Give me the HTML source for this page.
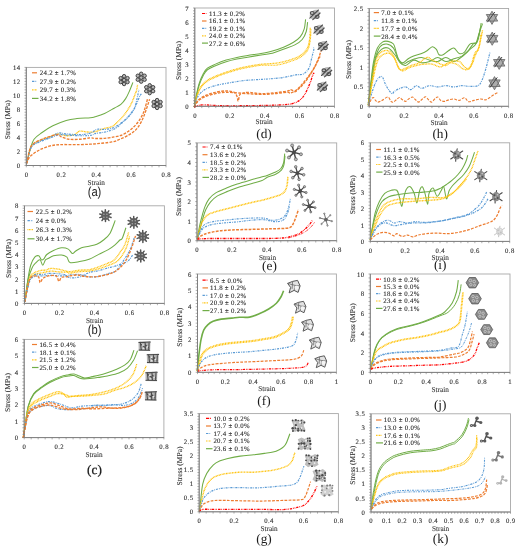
<!DOCTYPE html>
<html><head><meta charset="utf-8"><style>
html,body{margin:0;padding:0;background:#fff;width:522px;height:550px;overflow:hidden}
svg{display:block;text-rendering:geometricPrecision}
.t{font-family:'Liberation Serif','DejaVu Serif',serif;font-size:6.7px;fill:#333;letter-spacing:0.42px;stroke:#333;stroke-width:0.12px}
.lg{font-family:'Liberation Serif','DejaVu Serif',serif;font-size:6.8px;fill:#2a2a2a;letter-spacing:0.3px;stroke:#2a2a2a;stroke-width:0.12px}
.lab{font-family:'Liberation Serif','DejaVu Serif',serif;font-size:7.5px;fill:#383838;stroke:#383838;stroke-width:0.1px}
.capS{font-family:'Liberation Sans','DejaVu Sans',sans-serif;font-size:13px;fill:#1a1a1a}
.capT{font-family:'Liberation Serif','DejaVu Serif',serif;font-size:13.3px;fill:#1a1a1a}
.bold{stroke:#1a1a1a;stroke-width:0.25px}
</style></head><body>
<svg width="522" height="550" viewBox="0 0 522 550">
<rect width="522" height="550" fill="#fff"/>
<g id="pa">
<rect x="26.30" y="67.40" width="139.70" height="98.10" fill="none" stroke="#a8a8a8" stroke-width="0.9"/>
<path d="M26.54,163.39 C26.67,162.94 26.76,162.94 27.34,160.71 C27.92,158.47 28.91,153.56 30.02,149.98 C31.14,146.40 32.03,142.16 34.05,139.25 C36.06,136.35 38.96,134.78 42.09,132.55 C45.22,130.31 48.80,127.85 52.82,125.84 C56.84,123.83 62.21,121.69 66.23,120.48 C70.25,119.27 72.93,119.05 76.96,118.60 C80.98,118.15 87.36,118.09 90.37,117.80 C93.37,117.50 92.63,117.54 95.00,116.82 C97.37,116.10 101.39,114.90 104.58,113.47 C107.77,112.03 111.44,109.72 114.16,108.20 C116.87,106.68 118.95,105.96 120.86,104.37 C122.78,102.77 124.21,100.86 125.65,98.62 C127.09,96.39 128.28,93.66 129.48,90.96 C130.69,88.26 132.31,83.84 132.88,82.42" fill="none" stroke="#70ad47" stroke-width="1.05"/>
<path d="M26.54,163.39 C26.67,162.94 26.54,163.61 27.34,160.71 C28.15,157.80 29.35,149.31 31.36,145.96 C33.38,142.61 36.28,142.16 39.41,140.59 C42.54,139.03 47.01,137.69 50.14,136.57 C53.27,135.45 55.50,134.02 58.18,133.89 C60.87,133.75 63.55,135.63 66.23,135.77 C68.91,135.90 72.04,135.45 74.28,134.69 C76.51,133.93 77.40,131.65 79.64,131.21 C81.87,130.76 85.13,131.93 87.69,132.01 C90.25,132.09 92.18,132.28 95.00,131.67 C97.82,131.05 101.70,129.19 104.58,128.31 C107.45,127.44 109.85,127.68 112.24,126.40 C114.64,125.12 116.71,122.89 118.95,120.65 C121.18,118.42 123.58,115.86 125.65,112.99 C127.73,110.11 129.80,106.60 131.40,103.41 C132.99,100.22 134.35,96.07 135.23,93.83 C136.11,91.60 136.28,91.57 136.67,90.00 C137.06,88.43 137.42,85.36 137.57,84.43" fill="none" stroke="#ffc000" stroke-width="1.35" stroke-dasharray="0.9 0.6"/>
<path d="M26.54,163.39 C26.67,162.94 26.54,163.52 27.34,160.71 C28.15,157.89 29.35,149.76 31.36,146.49 C33.38,143.23 36.28,142.65 39.41,141.13 C42.54,139.61 47.01,138.72 50.14,137.38 C53.27,136.03 55.50,133.67 58.18,133.08 C60.87,132.50 62.65,133.62 66.23,133.89 C69.81,134.16 75.62,134.83 79.64,134.69 C83.66,134.56 87.49,133.99 90.37,133.08 C93.25,132.18 94.55,129.88 96.92,129.27 C99.28,128.67 102.02,129.66 104.58,129.46 C107.13,129.27 110.01,128.83 112.24,128.12 C114.48,127.42 116.23,126.33 117.99,125.25 C119.74,124.16 121.10,123.01 122.78,121.61 C124.45,120.20 126.53,118.42 128.05,116.82 C129.56,115.22 130.68,113.79 131.88,112.03 C133.07,110.27 134.06,109.99 135.23,106.28 C136.40,102.58 138.29,92.55 138.90,89.80" fill="none" stroke="#5b9bd5" stroke-width="1.2" stroke-dasharray="2.1 1.0 0.8 1.0"/>
<path d="M26.54,163.39 C26.67,162.94 26.54,163.39 27.34,160.71 C28.15,158.03 29.35,150.43 31.36,147.30 C33.38,144.17 36.28,143.50 39.41,141.93 C42.54,140.37 46.79,139.12 50.14,137.91 C53.49,136.70 56.40,135.14 59.52,134.69 C62.65,134.25 65.11,135.05 68.91,135.23 C72.71,135.41 78.52,135.77 82.32,135.77 C86.12,135.77 89.60,135.59 91.71,135.23 C93.82,134.87 92.86,134.10 95.00,133.58 C97.14,133.07 101.86,132.70 104.58,132.15 C107.29,131.59 109.21,131.03 111.28,130.23 C113.36,129.43 115.27,128.55 117.03,127.36 C118.79,126.16 120.22,124.48 121.82,123.05 C123.42,121.61 125.09,120.25 126.61,118.74 C128.13,117.22 129.64,115.62 130.92,113.95 C132.20,112.27 133.23,110.59 134.27,108.68 C135.31,106.76 136.19,104.61 137.15,102.45 C138.10,100.30 139.28,97.19 140.02,95.75 C140.76,94.31 141.34,94.12 141.60,93.80" fill="none" stroke="#5b9bd5" stroke-width="1.2" stroke-dasharray="2.1 1.0 0.8 1.0"/>
<path d="M26.54,163.39 C26.67,162.94 26.54,163.61 27.34,160.71 C28.15,157.80 28.91,149.53 31.36,145.96 C33.82,142.38 37.85,141.13 42.09,139.25 C46.34,137.38 53.71,135.14 56.84,134.69 C59.97,134.25 58.85,135.81 60.87,136.57 C62.88,137.33 65.78,138.81 68.91,139.25 C72.04,139.70 76.06,139.48 79.64,139.25 C83.22,139.03 87.82,138.05 90.37,137.91 C92.92,137.78 92.56,138.37 94.93,138.45 C97.30,138.52 101.37,138.62 104.58,138.37 C107.78,138.12 111.28,137.49 114.16,136.93 C117.03,136.38 119.43,135.98 121.82,135.02 C124.21,134.06 126.45,132.62 128.52,131.19 C130.60,129.75 132.52,128.15 134.27,126.40 C136.03,124.64 137.62,122.73 139.06,120.65 C140.50,118.58 141.90,116.02 142.89,113.95 C143.88,111.87 144.21,110.77 145.00,108.20 C145.79,105.63 147.19,100.13 147.63,98.51" fill="none" stroke="#ed7d31" stroke-width="1.35" stroke-dasharray="2.8 1.3"/>
<path d="M26.54,163.39 C26.67,162.94 26.54,162.05 27.34,160.71 C28.15,159.37 29.35,157.13 31.36,155.34 C33.38,153.56 36.28,151.55 39.41,149.98 C42.54,148.42 46.56,146.85 50.14,145.96 C53.71,145.06 55.95,144.84 60.87,144.62 C65.78,144.39 73.83,144.75 79.64,144.62 C85.45,144.48 90.37,144.26 95.73,143.81 C101.10,143.37 107.80,142.69 111.82,141.93 C115.85,141.17 116.96,140.46 119.87,139.25 C122.78,138.05 126.53,136.34 129.26,134.69 C131.98,133.04 134.17,131.59 136.23,129.36 C138.29,127.13 139.98,124.44 141.59,121.31 C143.20,118.18 144.54,114.27 145.89,110.58 C147.23,106.89 149.01,101.08 149.64,99.18" fill="none" stroke="#ed7d31" stroke-width="1.35" stroke-dasharray="2.8 1.3"/>
<path d="M26.30,67.40V165.50H166.00" fill="none" stroke="#7a7a7a" stroke-width="0.9"/>
<path d="M24.50,165.50H26.30M24.50,162.70H26.30M24.50,159.89H26.30M24.50,157.09H26.30M24.50,154.29H26.30M24.50,151.49H26.30M24.50,148.68H26.30M24.50,145.88H26.30M24.50,143.08H26.30M24.50,140.27H26.30M24.50,137.47H26.30M24.50,134.67H26.30M24.50,131.87H26.30M24.50,129.06H26.30M24.50,126.26H26.30M24.50,123.46H26.30M24.50,120.65H26.30M24.50,117.85H26.30M24.50,115.05H26.30M24.50,112.25H26.30M24.50,109.44H26.30M24.50,106.64H26.30M24.50,103.84H26.30M24.50,101.03H26.30M24.50,98.23H26.30M24.50,95.43H26.30M24.50,92.63H26.30M24.50,89.82H26.30M24.50,87.02H26.30M24.50,84.22H26.30M24.50,81.41H26.30M24.50,78.61H26.30M24.50,75.81H26.30M24.50,73.01H26.30M24.50,70.20H26.30M24.50,67.40H26.30M26.30,165.50V167.30M33.28,165.50V167.30M40.27,165.50V167.30M47.25,165.50V167.30M54.24,165.50V167.30M61.22,165.50V167.30M68.21,165.50V167.30M75.19,165.50V167.30M82.18,165.50V167.30M89.16,165.50V167.30M96.15,165.50V167.30M103.13,165.50V167.30M110.12,165.50V167.30M117.10,165.50V167.30M124.09,165.50V167.30M131.07,165.50V167.30M138.06,165.50V167.30M145.04,165.50V167.30M152.03,165.50V167.30M159.01,165.50V167.30M166.00,165.50V167.30" stroke="#7a7a7a" stroke-width="0.6"/>
<text x="20.52" y="168.05" text-anchor="end" class="t">0</text>
<text x="20.52" y="154.04" text-anchor="end" class="t">2</text>
<text x="20.52" y="140.02" text-anchor="end" class="t">4</text>
<text x="20.52" y="126.01" text-anchor="end" class="t">6</text>
<text x="20.52" y="111.99" text-anchor="end" class="t">8</text>
<text x="20.52" y="97.98" text-anchor="end" class="t">10</text>
<text x="20.52" y="83.96" text-anchor="end" class="t">12</text>
<text x="20.52" y="69.95" text-anchor="end" class="t">14</text>
<text x="26.51" y="176.70" text-anchor="middle" class="t">0</text>
<text x="61.43" y="176.70" text-anchor="middle" class="t">0.2</text>
<text x="96.36" y="176.70" text-anchor="middle" class="t">0.4</text>
<text x="131.28" y="176.70" text-anchor="middle" class="t">0.6</text>
<text x="166.21" y="176.70" text-anchor="middle" class="t">0.8</text>
<text transform="translate(10.35,119.65) rotate(-90)" text-anchor="middle" class="lab">Stress (MPa)</text>
<text transform="translate(96.20,184.50) scale(0.96,1)" text-anchor="middle" class="lab">Strain</text>
<text transform="translate(94.50,196.40) scale(0.86,1)" text-anchor="middle" class="capS">(a)</text>
<line x1="32.00" y1="72.80" x2="37.00" y2="72.80" stroke="#ed7d31" stroke-width="1.2"/>
<text x="39.75" y="75.20" class="lg">24.2 ± 1.7%</text>
<line x1="32.00" y1="81.40" x2="37.00" y2="81.40" stroke="#5b9bd5" stroke-width="1.2" stroke-dasharray="2.4 1.0 0.8 1.0"/>
<text x="39.75" y="83.80" class="lg">27.9 ± 0.2%</text>
<line x1="32.00" y1="89.90" x2="37.00" y2="89.90" stroke="#ffc000" stroke-width="1.2" stroke-dasharray="0.9 0.6"/>
<text x="39.75" y="92.30" class="lg">29.7 ± 0.3%</text>
<line x1="32.00" y1="98.40" x2="38.50" y2="98.40" stroke="#70ad47" stroke-width="1.2"/>
<text x="39.75" y="100.80" class="lg">34.2 ± 1.8%</text>
<g transform="translate(124.10,80.10) scale(1.0)"><g fill="#b5b5b5" stroke="#3c3c3c" stroke-width="0.95"><circle cx="0" cy="0" r="1.75"/><circle cx="0" cy="-3.9" r="1.75"/><circle cx="0" cy="3.9" r="1.75"/><circle cx="-3.4" cy="-1.95" r="1.75"/><circle cx="-3.4" cy="1.95" r="1.75"/><circle cx="3.4" cy="-1.95" r="1.75"/><circle cx="3.4" cy="1.95" r="1.75"/></g></g>
<g transform="translate(141.20,77.70) scale(1.0)"><g fill="#b5b5b5" stroke="#3c3c3c" stroke-width="0.95"><circle cx="0" cy="0" r="1.75"/><circle cx="0" cy="-3.9" r="1.75"/><circle cx="0" cy="3.9" r="1.75"/><circle cx="-3.4" cy="-1.95" r="1.75"/><circle cx="-3.4" cy="1.95" r="1.75"/><circle cx="3.4" cy="-1.95" r="1.75"/><circle cx="3.4" cy="1.95" r="1.75"/></g></g>
<g transform="translate(149.70,89.20) scale(1.0)"><g fill="#b5b5b5" stroke="#3c3c3c" stroke-width="0.95"><circle cx="0" cy="0" r="1.75"/><circle cx="0" cy="-3.9" r="1.75"/><circle cx="0" cy="3.9" r="1.75"/><circle cx="-3.4" cy="-1.95" r="1.75"/><circle cx="-3.4" cy="1.95" r="1.75"/><circle cx="3.4" cy="-1.95" r="1.75"/><circle cx="3.4" cy="1.95" r="1.75"/></g></g>
<g transform="translate(157.10,104.00) scale(1.0)"><g fill="#b5b5b5" stroke="#3c3c3c" stroke-width="0.95"><circle cx="0" cy="0" r="1.75"/><circle cx="0" cy="-3.9" r="1.75"/><circle cx="0" cy="3.9" r="1.75"/><circle cx="-3.4" cy="-1.95" r="1.75"/><circle cx="-3.4" cy="1.95" r="1.75"/><circle cx="3.4" cy="-1.95" r="1.75"/><circle cx="3.4" cy="1.95" r="1.75"/></g></g>
</g>
<g id="pb">
<rect x="24.50" y="205.80" width="139.90" height="97.60" fill="none" stroke="#a8a8a8" stroke-width="0.9"/>
<path d="M24.80,301.97 C25.34,298.08 27.04,284.76 28.02,278.64 C29.01,272.52 29.59,268.81 30.70,265.23 C31.82,261.65 33.39,258.75 34.73,257.18 C36.07,255.62 37.63,255.40 38.75,255.84 C39.87,256.29 40.54,259.42 41.43,259.87 C42.33,260.31 43.22,259.42 44.11,258.52 C45.01,257.63 45.23,255.84 46.80,254.50 C48.36,253.16 51.04,251.60 53.50,250.48 C55.96,249.36 59.09,248.02 61.55,247.80 C64.01,247.57 66.45,248.20 68.25,249.14 C70.06,250.07 71.15,253.10 72.39,253.41 C73.64,253.72 74.23,251.97 75.75,251.02 C77.26,250.06 79.26,248.46 81.49,247.66 C83.73,246.86 86.60,246.78 89.16,246.23 C91.71,245.67 94.43,245.35 96.82,244.31 C99.21,243.27 101.31,241.86 103.52,240.00 C105.74,238.14 108.15,236.42 110.09,233.16 C112.04,229.90 114.34,222.54 115.19,220.42" fill="none" stroke="#70ad47" stroke-width="1.05"/>
<path d="M24.80,301.97 C25.34,298.31 26.82,285.66 28.02,279.98 C29.23,274.30 30.70,270.82 32.05,267.91 C33.39,265.01 34.73,263.89 36.07,262.55 C37.41,261.21 38.97,259.42 40.09,259.87 C41.21,260.31 41.88,265.23 42.77,265.23 C43.67,265.23 44.56,260.98 45.46,259.87 C46.35,258.75 46.80,259.20 48.14,258.52 C49.48,257.85 51.27,256.42 53.50,255.84 C55.74,255.26 59.31,254.81 61.55,255.04 C63.78,255.26 65.50,255.94 66.91,257.18 C68.32,258.43 67.89,261.78 70.00,262.51 C72.11,263.24 76.39,262.11 79.58,261.55 C82.77,260.99 85.96,260.35 89.16,259.16 C92.35,257.96 95.54,255.96 98.74,254.37 C101.93,252.77 105.60,251.17 108.31,249.58 C111.03,247.98 113.10,246.39 115.02,244.79 C116.93,243.19 118.62,241.04 119.81,240.00 C121.00,238.96 121.14,240.56 122.16,238.52 C123.18,236.49 125.29,229.58 125.92,227.80" fill="none" stroke="#70ad47" stroke-width="1.05"/>
<path d="M24.80,301.97 C25.56,298.08 27.93,283.42 29.36,278.64 C30.79,273.86 31.60,274.62 33.39,273.28 C35.17,271.93 38.08,271.13 40.09,270.59 C42.10,270.06 43.67,270.42 45.46,270.06 C47.24,269.70 48.58,268.58 50.82,268.45 C53.05,268.31 56.63,268.90 58.87,269.25 C61.10,269.61 62.37,270.20 64.23,270.59 C66.09,270.99 67.44,271.68 70.00,271.61 C72.56,271.54 76.39,270.49 79.58,270.17 C82.77,269.85 85.96,270.25 89.16,269.69 C92.35,269.13 95.54,267.94 98.74,266.82 C101.93,265.70 105.76,264.11 108.31,262.99 C110.87,261.87 112.11,261.87 114.06,260.11 C116.01,258.36 118.20,255.04 120.00,252.45 C121.80,249.86 123.41,247.89 124.84,244.56 C126.28,241.23 127.97,234.50 128.60,232.49" fill="none" stroke="#ffc000" stroke-width="1.35" stroke-dasharray="0.9 0.6"/>
<path d="M24.80,301.97 C25.56,298.31 27.71,284.54 29.36,279.98 C31.02,275.42 32.49,275.82 34.73,274.62 C36.96,273.41 40.09,273.32 42.77,272.74 C45.46,272.16 48.14,271.26 50.82,271.13 C53.50,271.00 56.18,271.76 58.87,271.93 C61.55,272.11 65.06,272.02 66.91,272.20 C68.77,272.39 67.89,273.14 70.00,273.05 C72.11,272.95 76.39,271.93 79.58,271.61 C82.77,271.29 85.96,271.61 89.16,271.13 C92.35,270.65 95.54,269.69 98.74,268.74 C101.93,267.78 105.44,266.50 108.31,265.38 C111.19,264.27 113.89,263.38 115.98,262.03 C118.06,260.68 119.12,259.65 120.82,257.30 C122.52,254.95 124.73,251.38 126.18,247.91 C127.64,244.45 128.98,238.41 129.54,236.51" fill="none" stroke="#ffc000" stroke-width="1.35" stroke-dasharray="0.9 0.6"/>
<path d="M24.80,301.97 C25.56,298.53 27.71,285.88 29.36,281.32 C31.02,276.76 32.49,275.73 34.73,274.62 C36.96,273.50 40.09,274.84 42.77,274.62 C45.46,274.39 47.24,273.28 50.82,273.28 C54.40,273.28 61.03,273.86 64.23,274.62 C67.43,275.38 67.44,277.46 70.00,277.84 C72.56,278.21 76.39,277.76 79.58,276.88 C82.77,276.00 85.96,273.60 89.16,272.57 C92.35,271.53 95.54,271.45 98.74,270.65 C101.93,269.85 105.44,268.58 108.31,267.78 C111.19,266.98 112.78,266.94 115.98,265.86 C119.18,264.79 124.71,263.20 127.52,261.32 C130.34,259.45 131.99,255.73 132.89,254.62" fill="none" stroke="#5b9bd5" stroke-width="1.2" stroke-dasharray="2.1 1.0 0.8 1.0"/>
<path d="M24.80,301.97 C25.56,298.62 27.71,286.10 29.36,281.86 C31.02,277.61 32.49,277.48 34.73,276.49 C36.96,275.51 40.09,276.14 42.77,275.96 C45.46,275.78 47.24,275.42 50.82,275.42 C54.40,275.42 61.03,276.03 64.23,275.96 C67.43,275.88 67.44,275.21 70.00,274.96 C72.56,274.72 76.39,274.16 79.58,274.48 C82.77,274.80 85.96,276.56 89.16,276.88 C92.35,277.20 95.54,276.96 98.74,276.40 C101.93,275.84 105.44,274.48 108.31,273.52 C111.19,272.57 113.22,273.13 115.98,270.65 C118.73,268.17 122.47,262.21 124.84,258.64 C127.21,255.07 128.64,252.72 130.21,249.25 C131.77,245.79 133.56,239.75 134.23,237.85" fill="none" stroke="#5b9bd5" stroke-width="1.2" stroke-dasharray="2.1 1.0 0.8 1.0"/>
<path d="M24.80,301.97 C25.56,298.31 27.71,284.32 29.36,279.98 C31.02,275.64 33.16,276.40 34.73,275.96 C36.29,275.51 37.86,276.18 38.75,277.30 C39.64,278.42 39.42,282.44 40.09,282.66 C40.76,282.89 41.43,279.76 42.77,278.64 C44.11,277.52 45.90,276.40 48.14,275.96 C50.37,275.51 54.40,275.06 56.18,275.96 C57.97,276.85 57.97,281.10 58.87,281.32 C59.76,281.55 60.21,278.06 61.55,277.30 C62.89,276.54 65.50,276.99 66.91,276.76 C68.32,276.53 68.21,276.22 70.00,275.92 C71.79,275.62 75.27,274.88 77.66,274.96 C80.06,275.04 81.65,276.08 84.37,276.40 C87.08,276.72 90.75,277.04 93.95,276.88 C97.14,276.72 100.33,276.16 103.52,275.44 C106.72,274.72 110.36,273.84 113.10,272.57 C115.85,271.29 117.82,269.88 120.00,267.78 C122.18,265.68 124.26,263.29 126.18,259.98 C128.11,256.67 129.98,251.93 131.55,247.91 C133.11,243.89 134.90,237.85 135.57,235.84" fill="none" stroke="#ed7d31" stroke-width="1.35" stroke-dasharray="2.8 1.3"/>
<path d="M24.50,205.80V303.40H164.40" fill="none" stroke="#7a7a7a" stroke-width="0.9"/>
<path d="M22.70,303.40H24.50M22.70,300.96H24.50M22.70,298.52H24.50M22.70,296.08H24.50M22.70,293.64H24.50M22.70,291.20H24.50M22.70,288.76H24.50M22.70,286.32H24.50M22.70,283.88H24.50M22.70,281.44H24.50M22.70,279.00H24.50M22.70,276.56H24.50M22.70,274.12H24.50M22.70,271.68H24.50M22.70,269.24H24.50M22.70,266.80H24.50M22.70,264.36H24.50M22.70,261.92H24.50M22.70,259.48H24.50M22.70,257.04H24.50M22.70,254.60H24.50M22.70,252.16H24.50M22.70,249.72H24.50M22.70,247.28H24.50M22.70,244.84H24.50M22.70,242.40H24.50M22.70,239.96H24.50M22.70,237.52H24.50M22.70,235.08H24.50M22.70,232.64H24.50M22.70,230.20H24.50M22.70,227.76H24.50M22.70,225.32H24.50M22.70,222.88H24.50M22.70,220.44H24.50M22.70,218.00H24.50M22.70,215.56H24.50M22.70,213.12H24.50M22.70,210.68H24.50M22.70,208.24H24.50M22.70,205.80H24.50M24.50,303.40V305.20M31.50,303.40V305.20M38.49,303.40V305.20M45.48,303.40V305.20M52.48,303.40V305.20M59.48,303.40V305.20M66.47,303.40V305.20M73.47,303.40V305.20M80.46,303.40V305.20M87.45,303.40V305.20M94.45,303.40V305.20M101.45,303.40V305.20M108.44,303.40V305.20M115.44,303.40V305.20M122.43,303.40V305.20M129.43,303.40V305.20M136.42,303.40V305.20M143.42,303.40V305.20M150.41,303.40V305.20M157.41,303.40V305.20M164.40,303.40V305.20" stroke="#7a7a7a" stroke-width="0.6"/>
<text x="18.72" y="305.95" text-anchor="end" class="t">0</text>
<text x="18.72" y="293.75" text-anchor="end" class="t">1</text>
<text x="18.72" y="281.55" text-anchor="end" class="t">2</text>
<text x="18.72" y="269.35" text-anchor="end" class="t">3</text>
<text x="18.72" y="257.15" text-anchor="end" class="t">4</text>
<text x="18.72" y="244.95" text-anchor="end" class="t">5</text>
<text x="18.72" y="232.75" text-anchor="end" class="t">6</text>
<text x="18.72" y="220.55" text-anchor="end" class="t">7</text>
<text x="18.72" y="208.35" text-anchor="end" class="t">8</text>
<text x="24.71" y="314.60" text-anchor="middle" class="t">0</text>
<text x="59.69" y="314.60" text-anchor="middle" class="t">0.2</text>
<text x="94.66" y="314.60" text-anchor="middle" class="t">0.4</text>
<text x="129.64" y="314.60" text-anchor="middle" class="t">0.6</text>
<text x="164.61" y="314.60" text-anchor="middle" class="t">0.8</text>
<text transform="translate(10.80,258.50) rotate(-90)" text-anchor="middle" class="lab">Stress (MPa)</text>
<text transform="translate(94.60,322.50) scale(0.96,1)" text-anchor="middle" class="lab">Strain</text>
<text transform="translate(94.60,334.40) scale(0.86,1)" text-anchor="middle" class="capS">(b)</text>
<line x1="27.50" y1="211.50" x2="33.00" y2="211.50" stroke="#ed7d31" stroke-width="1.2"/>
<text x="35.75" y="213.90" class="lg">22.5 ± 0.2%</text>
<line x1="27.50" y1="220.70" x2="33.00" y2="220.70" stroke="#5b9bd5" stroke-width="1.2" stroke-dasharray="2.4 1.0 0.8 1.0"/>
<text x="35.75" y="223.10" class="lg">24 ± 0.0%</text>
<line x1="27.50" y1="229.60" x2="33.00" y2="229.60" stroke="#ffc000" stroke-width="1.2" stroke-dasharray="0.9 0.6"/>
<text x="35.75" y="232.00" class="lg">26.3 ± 0.3%</text>
<line x1="27.50" y1="238.80" x2="34.50" y2="238.80" stroke="#70ad47" stroke-width="1.2"/>
<text x="35.75" y="241.20" class="lg">30.4 ± 1.7%</text>
<g transform="translate(105.40,215.70) scale(1.0)"><g stroke="#555" stroke-width="1.5" stroke-linecap="round"><line x1="3.06" y1="0.95" x2="5.64" y2="1.74"/><line x1="1.92" y1="2.56" x2="3.54" y2="4.72"/><line x1="0.05" y1="3.20" x2="0.08" y2="5.90"/><line x1="-1.84" y1="2.62" x2="-3.40" y2="4.82"/><line x1="-3.03" y1="1.03" x2="-5.58" y2="1.90"/><line x1="-3.06" y1="-0.95" x2="-5.64" y2="-1.74"/><line x1="-1.92" y1="-2.56" x2="-3.54" y2="-4.72"/><line x1="-0.05" y1="-3.20" x2="-0.08" y2="-5.90"/><line x1="1.84" y1="-2.62" x2="3.40" y2="-4.82"/><line x1="3.03" y1="-1.03" x2="5.58" y2="-1.90"/></g><circle r="4.2" fill="#5e5e5e"/><g fill="#a8a8a8"><circle cx="-1.5" cy="-1.5" r="0.8"/><circle cx="1.5" cy="-1.5" r="0.8"/><circle cx="-1.5" cy="1.5" r="0.8"/><circle cx="1.5" cy="1.5" r="0.8"/></g></g>
<g transform="translate(133.80,222.30) scale(1.0)"><g stroke="#555" stroke-width="1.5" stroke-linecap="round"><line x1="3.06" y1="0.95" x2="5.64" y2="1.74"/><line x1="1.92" y1="2.56" x2="3.54" y2="4.72"/><line x1="0.05" y1="3.20" x2="0.08" y2="5.90"/><line x1="-1.84" y1="2.62" x2="-3.40" y2="4.82"/><line x1="-3.03" y1="1.03" x2="-5.58" y2="1.90"/><line x1="-3.06" y1="-0.95" x2="-5.64" y2="-1.74"/><line x1="-1.92" y1="-2.56" x2="-3.54" y2="-4.72"/><line x1="-0.05" y1="-3.20" x2="-0.08" y2="-5.90"/><line x1="1.84" y1="-2.62" x2="3.40" y2="-4.82"/><line x1="3.03" y1="-1.03" x2="5.58" y2="-1.90"/></g><circle r="4.2" fill="#5e5e5e"/><g fill="#a8a8a8"><circle cx="-1.5" cy="-1.5" r="0.8"/><circle cx="1.5" cy="-1.5" r="0.8"/><circle cx="-1.5" cy="1.5" r="0.8"/><circle cx="1.5" cy="1.5" r="0.8"/></g></g>
<g transform="translate(142.80,236.50) scale(1.0)"><g stroke="#555" stroke-width="1.5" stroke-linecap="round"><line x1="3.06" y1="0.95" x2="5.64" y2="1.74"/><line x1="1.92" y1="2.56" x2="3.54" y2="4.72"/><line x1="0.05" y1="3.20" x2="0.08" y2="5.90"/><line x1="-1.84" y1="2.62" x2="-3.40" y2="4.82"/><line x1="-3.03" y1="1.03" x2="-5.58" y2="1.90"/><line x1="-3.06" y1="-0.95" x2="-5.64" y2="-1.74"/><line x1="-1.92" y1="-2.56" x2="-3.54" y2="-4.72"/><line x1="-0.05" y1="-3.20" x2="-0.08" y2="-5.90"/><line x1="1.84" y1="-2.62" x2="3.40" y2="-4.82"/><line x1="3.03" y1="-1.03" x2="5.58" y2="-1.90"/></g><circle r="4.2" fill="#5e5e5e"/><g fill="#a8a8a8"><circle cx="-1.5" cy="-1.5" r="0.8"/><circle cx="1.5" cy="-1.5" r="0.8"/><circle cx="-1.5" cy="1.5" r="0.8"/><circle cx="1.5" cy="1.5" r="0.8"/></g></g>
<g transform="translate(140.70,256.00) scale(1.0)"><g stroke="#555" stroke-width="1.5" stroke-linecap="round"><line x1="3.06" y1="0.95" x2="5.64" y2="1.74"/><line x1="1.92" y1="2.56" x2="3.54" y2="4.72"/><line x1="0.05" y1="3.20" x2="0.08" y2="5.90"/><line x1="-1.84" y1="2.62" x2="-3.40" y2="4.82"/><line x1="-3.03" y1="1.03" x2="-5.58" y2="1.90"/><line x1="-3.06" y1="-0.95" x2="-5.64" y2="-1.74"/><line x1="-1.92" y1="-2.56" x2="-3.54" y2="-4.72"/><line x1="-0.05" y1="-3.20" x2="-0.08" y2="-5.90"/><line x1="1.84" y1="-2.62" x2="3.40" y2="-4.82"/><line x1="3.03" y1="-1.03" x2="5.58" y2="-1.90"/></g><circle r="4.2" fill="#5e5e5e"/><g fill="#a8a8a8"><circle cx="-1.5" cy="-1.5" r="0.8"/><circle cx="1.5" cy="-1.5" r="0.8"/><circle cx="-1.5" cy="1.5" r="0.8"/><circle cx="1.5" cy="1.5" r="0.8"/></g></g>
</g>
<g id="pc">
<rect x="24.20" y="339.40" width="139.70" height="98.20" fill="none" stroke="#a8a8a8" stroke-width="0.9"/>
<path d="M23.27,437.78 C23.67,435.10 24.83,427.05 25.68,421.69 C26.53,416.32 27.02,410.29 28.36,405.59 C29.70,400.90 31.49,396.65 33.73,393.52 C35.96,390.40 39.09,388.83 41.77,386.82 C44.46,384.81 46.69,383.15 49.82,381.46 C52.95,379.76 57.42,377.75 60.55,376.63 C63.68,375.51 66.36,375.20 68.59,374.75 C70.83,374.30 72.17,373.72 73.96,373.95 C75.75,374.17 77.53,375.42 79.32,376.09 C81.11,376.76 82.54,377.88 84.69,377.97 C86.83,378.06 89.85,377.08 92.20,376.63 C94.54,376.17 96.22,375.89 98.75,375.23 C101.28,374.57 104.49,373.60 107.37,372.64 C110.24,371.69 113.11,370.73 115.99,369.48 C118.86,368.24 122.21,366.85 124.61,365.17 C127.00,363.50 128.80,361.94 130.36,359.43 C131.91,356.91 133.35,351.64 133.95,350.09" fill="none" stroke="#70ad47" stroke-width="1.05"/>
<path d="M23.27,437.78 C23.67,435.19 24.83,427.50 25.68,422.22 C26.53,416.95 27.02,410.78 28.36,406.13 C29.70,401.48 31.49,397.41 33.73,394.33 C35.96,391.25 39.09,389.59 41.77,387.62 C44.46,385.66 46.69,384.18 49.82,382.53 C52.95,380.87 57.42,378.77 60.55,377.70 C63.68,376.63 66.36,376.45 68.59,376.09 C70.83,375.73 71.72,375.11 73.96,375.56 C76.19,376.00 78.96,378.33 82.00,378.77 C85.04,379.22 89.40,378.47 92.20,378.24 C94.99,378.01 96.22,377.77 98.75,377.39 C101.28,377.00 104.02,376.67 107.37,375.95 C110.72,375.23 115.51,374.39 118.86,373.07 C122.21,371.76 125.09,370.08 127.48,368.05 C129.88,366.01 131.55,363.74 133.23,360.86 C134.91,357.99 136.82,352.48 137.54,350.80" fill="none" stroke="#70ad47" stroke-width="1.05"/>
<path d="M23.27,437.78 C23.89,433.75 25.73,419.23 27.02,413.64 C28.32,408.05 29.03,406.71 31.05,404.25 C33.06,401.79 35.96,400.54 39.09,398.89 C42.22,397.23 46.69,395.54 49.82,394.33 C52.95,393.12 55.63,391.78 57.87,391.65 C60.10,391.51 61.67,392.63 63.23,393.52 C64.79,394.42 65.02,396.65 67.25,397.01 C69.49,397.37 72.48,396.12 76.64,395.67 C80.80,395.22 87.07,395.10 92.20,394.33 C97.32,393.56 102.92,392.30 107.37,391.03 C111.81,389.77 115.51,388.40 118.86,386.72 C122.21,385.05 125.09,383.13 127.48,380.98 C129.88,378.82 131.67,376.67 133.23,373.79 C134.79,370.92 136.22,365.41 136.82,363.74" fill="none" stroke="#ffc000" stroke-width="1.35" stroke-dasharray="0.9 0.6"/>
<path d="M23.27,437.78 C23.89,433.98 25.73,420.26 27.02,414.98 C28.32,409.71 29.03,408.50 31.05,406.13 C33.06,403.76 35.96,402.38 39.09,400.77 C42.22,399.16 46.69,397.68 49.82,396.48 C52.95,395.27 55.18,393.79 57.87,393.52 C60.55,393.26 63.90,394.42 65.91,394.87 C67.92,395.31 67.70,395.98 69.93,396.21 C72.17,396.43 75.61,396.34 79.32,396.21 C83.03,396.07 88.00,395.79 92.20,395.40 C96.39,395.02 100.77,394.76 104.49,393.91 C108.22,393.06 111.20,391.39 114.55,390.32 C117.90,389.24 121.26,388.76 124.61,387.44 C127.96,386.13 131.79,384.45 134.67,382.41 C137.54,380.38 139.93,377.98 141.85,375.23 C143.77,372.48 145.44,367.45 146.16,365.89" fill="none" stroke="#ffc000" stroke-width="1.35" stroke-dasharray="0.9 0.6"/>
<path d="M23.27,437.78 C23.89,434.20 25.73,421.24 27.02,416.32 C28.32,411.40 29.03,410.29 31.05,408.28 C33.06,406.26 35.96,405.37 39.09,404.25 C42.22,403.14 46.24,401.57 49.82,401.57 C53.40,401.57 56.97,403.22 60.55,404.25 C64.12,405.28 67.70,407.43 71.28,407.74 C74.85,408.05 78.52,406.49 82.00,406.13 C85.49,405.77 87.97,405.72 92.20,405.59 C96.42,405.47 102.44,405.67 107.37,405.40 C112.29,405.13 117.66,404.92 121.74,403.97 C125.81,403.01 129.04,401.57 131.79,399.66 C134.55,397.74 136.70,395.11 138.26,392.47 C139.82,389.84 140.65,385.29 141.13,383.85" fill="none" stroke="#5b9bd5" stroke-width="1.2" stroke-dasharray="2.1 1.0 0.8 1.0"/>
<path d="M23.27,437.78 C23.89,434.43 25.73,422.13 27.02,417.66 C28.32,413.19 29.03,412.75 31.05,410.96 C33.06,409.17 35.96,407.83 39.09,406.93 C42.22,406.04 46.69,405.28 49.82,405.59 C52.95,405.91 54.74,408.14 57.87,408.81 C60.99,409.48 64.57,409.62 68.59,409.62 C72.62,409.62 78.07,409.13 82.00,408.81 C85.94,408.50 90.36,408.31 92.20,407.74 C94.03,407.17 90.95,405.84 93.00,405.40 C95.05,404.96 100.90,405.23 104.49,405.11 C108.09,405.00 111.20,404.64 114.55,404.68 C117.90,404.73 121.50,405.76 124.61,405.40 C127.72,405.04 130.84,403.97 133.23,402.53 C135.62,401.09 137.42,399.18 138.98,396.78 C140.53,394.39 141.97,389.60 142.57,388.16" fill="none" stroke="#5b9bd5" stroke-width="1.2" stroke-dasharray="2.1 1.0 0.8 1.0"/>
<path d="M23.27,437.78 C23.89,434.43 25.73,422.36 27.02,417.66 C28.32,412.97 29.03,411.63 31.05,409.62 C33.06,407.61 35.96,406.71 39.09,405.59 C42.22,404.48 46.69,403.00 49.82,402.91 C52.95,402.82 54.74,404.07 57.87,405.06 C60.99,406.04 64.57,408.28 68.59,408.81 C72.62,409.35 78.07,408.28 82.00,408.28 C85.94,408.28 87.97,408.81 92.20,408.81 C96.42,408.81 102.44,408.48 107.37,408.28 C112.29,408.07 117.66,408.04 121.74,407.56 C125.81,407.08 128.92,406.72 131.79,405.40 C134.67,404.09 137.18,402.05 138.98,399.66 C140.77,397.26 141.97,392.47 142.57,391.03" fill="none" stroke="#ed7d31" stroke-width="1.35" stroke-dasharray="2.8 1.3"/>
<path d="M23.27,437.78 C23.89,434.65 25.73,423.47 27.02,419.00 C28.32,414.53 29.03,412.97 31.05,410.96 C33.06,408.95 35.96,407.92 39.09,406.93 C42.22,405.95 45.80,404.74 49.82,405.06 C53.84,405.37 58.76,408.05 63.23,408.81 C67.70,409.57 71.81,409.80 76.64,409.62 C81.47,409.44 88.03,408.20 92.20,407.74 C96.36,407.28 98.61,406.80 101.62,406.84 C104.63,406.88 107.37,407.75 110.24,407.99 C113.11,408.23 115.99,408.47 118.86,408.28 C121.74,408.08 124.61,407.80 127.48,406.84 C130.36,405.88 133.83,404.44 136.10,402.53 C138.38,400.61 140.29,396.54 141.13,395.34" fill="none" stroke="#ed7d31" stroke-width="1.35" stroke-dasharray="2.8 1.3"/>
<path d="M24.20,339.40V437.60H163.90" fill="none" stroke="#7a7a7a" stroke-width="0.9"/>
<path d="M22.40,437.60H24.20M22.40,434.33H24.20M22.40,431.05H24.20M22.40,427.78H24.20M22.40,424.51H24.20M22.40,421.23H24.20M22.40,417.96H24.20M22.40,414.69H24.20M22.40,411.41H24.20M22.40,408.14H24.20M22.40,404.87H24.20M22.40,401.59H24.20M22.40,398.32H24.20M22.40,395.05H24.20M22.40,391.77H24.20M22.40,388.50H24.20M22.40,385.23H24.20M22.40,381.95H24.20M22.40,378.68H24.20M22.40,375.41H24.20M22.40,372.13H24.20M22.40,368.86H24.20M22.40,365.59H24.20M22.40,362.31H24.20M22.40,359.04H24.20M22.40,355.77H24.20M22.40,352.49H24.20M22.40,349.22H24.20M22.40,345.95H24.20M22.40,342.67H24.20M22.40,339.40H24.20M24.20,437.60V439.40M31.18,437.60V439.40M38.17,437.60V439.40M45.16,437.60V439.40M52.14,437.60V439.40M59.12,437.60V439.40M66.11,437.60V439.40M73.09,437.60V439.40M80.08,437.60V439.40M87.06,437.60V439.40M94.05,437.60V439.40M101.03,437.60V439.40M108.02,437.60V439.40M115.01,437.60V439.40M121.99,437.60V439.40M128.97,437.60V439.40M135.96,437.60V439.40M142.94,437.60V439.40M149.93,437.60V439.40M156.91,437.60V439.40M163.90,437.60V439.40" stroke="#7a7a7a" stroke-width="0.6"/>
<text x="18.42" y="440.15" text-anchor="end" class="t">0</text>
<text x="18.42" y="423.78" text-anchor="end" class="t">1</text>
<text x="18.42" y="407.42" text-anchor="end" class="t">2</text>
<text x="18.42" y="391.05" text-anchor="end" class="t">3</text>
<text x="18.42" y="374.68" text-anchor="end" class="t">4</text>
<text x="18.42" y="358.32" text-anchor="end" class="t">5</text>
<text x="18.42" y="341.95" text-anchor="end" class="t">6</text>
<text x="24.41" y="448.80" text-anchor="middle" class="t">0</text>
<text x="59.34" y="448.80" text-anchor="middle" class="t">0.2</text>
<text x="94.26" y="448.80" text-anchor="middle" class="t">0.4</text>
<text x="129.19" y="448.80" text-anchor="middle" class="t">0.6</text>
<text x="164.11" y="448.80" text-anchor="middle" class="t">0.8</text>
<text transform="translate(10.35,392.50) rotate(-90)" text-anchor="middle" class="lab">Stress (MPa)</text>
<text transform="translate(94.00,456.70) scale(0.96,1)" text-anchor="middle" class="lab">Strain</text>
<text x="94.50" y="474.40" text-anchor="middle" class="capT bold">(c)</text>
<line x1="32.00" y1="344.50" x2="37.00" y2="344.50" stroke="#ed7d31" stroke-width="1.2"/>
<text x="39.40" y="346.90" class="lg">16.5 ± 0.4%</text>
<line x1="32.00" y1="352.20" x2="37.00" y2="352.20" stroke="#5b9bd5" stroke-width="1.2" stroke-dasharray="2.4 1.0 0.8 1.0"/>
<text x="39.40" y="354.60" class="lg">18.1 ± 0.1%</text>
<line x1="32.00" y1="359.90" x2="37.00" y2="359.90" stroke="#ffc000" stroke-width="1.2" stroke-dasharray="0.9 0.6"/>
<text x="39.40" y="362.30" class="lg">21.5 ± 1.2%</text>
<line x1="32.00" y1="367.50" x2="38.50" y2="367.50" stroke="#70ad47" stroke-width="1.2"/>
<text x="39.40" y="369.90" class="lg">25.0 ± 0.2%</text>
<g transform="translate(144.50,346.30) scale(1.0)"><path d="M-6,-4.6L6,-4.9L5.6,4.8L-5.8,4.6Z" fill="#b4b4b4"/><g stroke="#4a4a4a" stroke-width="1.05" fill="none" stroke-linecap="round"><path d="M-5.6,-3.8L5.8,-4.2M-5.4,3.8L5.2,4.0M-4.2,-4L-3.2,4M0.6,-4.1L1,4M4.6,-4.2L4.2,4M-4,-2.5L1,1.5M1,-1.5L4.5,2"/></g><g fill="#ececec"><circle cx="-1.6" cy="-1.2" r="0.9"/><circle cx="2.8" cy="0.6" r="0.9"/><circle cx="-1.2" cy="2.2" r="0.7"/></g></g>
<g transform="translate(152.80,358.60) scale(1.0)"><path d="M-6,-4.6L6,-4.9L5.6,4.8L-5.8,4.6Z" fill="#b4b4b4"/><g stroke="#4a4a4a" stroke-width="1.05" fill="none" stroke-linecap="round"><path d="M-5.6,-3.8L5.8,-4.2M-5.4,3.8L5.2,4.0M-4.2,-4L-3.2,4M0.6,-4.1L1,4M4.6,-4.2L4.2,4M-4,-2.5L1,1.5M1,-1.5L4.5,2"/></g><g fill="#ececec"><circle cx="-1.6" cy="-1.2" r="0.9"/><circle cx="2.8" cy="0.6" r="0.9"/><circle cx="-1.2" cy="2.2" r="0.7"/></g></g>
<g transform="translate(151.40,376.50) scale(1.0)"><path d="M-6,-4.6L6,-4.9L5.6,4.8L-5.8,4.6Z" fill="#b4b4b4"/><g stroke="#4a4a4a" stroke-width="1.05" fill="none" stroke-linecap="round"><path d="M-5.6,-3.8L5.8,-4.2M-5.4,3.8L5.2,4.0M-4.2,-4L-3.2,4M0.6,-4.1L1,4M4.6,-4.2L4.2,4M-4,-2.5L1,1.5M1,-1.5L4.5,2"/></g><g fill="#ececec"><circle cx="-1.6" cy="-1.2" r="0.9"/><circle cx="2.8" cy="0.6" r="0.9"/><circle cx="-1.2" cy="2.2" r="0.7"/></g></g>
<g transform="translate(150.80,396.00) scale(1.0)"><path d="M-6,-4.6L6,-4.9L5.6,4.8L-5.8,4.6Z" fill="#b4b4b4"/><g stroke="#4a4a4a" stroke-width="1.05" fill="none" stroke-linecap="round"><path d="M-5.6,-3.8L5.8,-4.2M-5.4,3.8L5.2,4.0M-4.2,-4L-3.2,4M0.6,-4.1L1,4M4.6,-4.2L4.2,4M-4,-2.5L1,1.5M1,-1.5L4.5,2"/></g><g fill="#ececec"><circle cx="-1.6" cy="-1.2" r="0.9"/><circle cx="2.8" cy="0.6" r="0.9"/><circle cx="-1.2" cy="2.2" r="0.7"/></g></g>
</g>
<g id="pd">
<rect x="194.80" y="8.00" width="139.70" height="98.30" fill="none" stroke="#a8a8a8" stroke-width="0.9"/>
<path d="M194.27,107.05 C194.67,104.81 195.83,97.66 196.68,93.64 C197.53,89.62 198.25,86.26 199.36,82.91 C200.48,79.56 202.05,75.98 203.39,73.52 C204.73,71.07 205.40,69.73 207.41,68.16 C209.42,66.60 212.33,65.48 215.46,64.14 C218.58,62.80 222.61,61.23 226.18,60.11 C229.76,59.00 233.34,58.19 236.91,57.43 C240.49,56.67 243.62,56.23 247.64,55.56 C251.66,54.89 257.21,54.07 261.05,53.41 C264.89,52.75 266.86,52.68 270.70,51.59 C274.55,50.51 280.32,48.46 284.11,46.90 C287.91,45.34 290.82,43.88 293.50,42.21 C296.18,40.53 298.42,39.08 300.21,36.84 C301.99,34.61 303.34,31.70 304.23,28.80 C305.12,25.89 305.35,20.97 305.57,19.41" fill="none" stroke="#70ad47" stroke-width="1.05"/>
<path d="M194.27,107.05 C194.67,105.04 195.83,98.74 196.68,94.98 C197.53,91.23 198.25,87.83 199.36,84.52 C200.48,81.21 202.05,77.59 203.39,75.13 C204.73,72.68 205.40,71.33 207.41,69.77 C209.42,68.21 212.33,67.09 215.46,65.75 C218.58,64.41 222.61,62.84 226.18,61.72 C229.76,60.61 233.34,59.80 236.91,59.04 C240.49,58.28 243.62,57.84 247.64,57.16 C251.66,56.49 257.21,55.61 261.05,55.02 C264.89,54.43 266.86,54.62 270.70,53.61 C274.55,52.59 280.09,50.36 284.11,48.91 C288.14,47.46 291.83,46.45 294.84,44.89 C297.86,43.32 300.32,41.76 302.22,39.52 C304.12,37.29 305.35,34.38 306.24,31.48 C307.14,28.57 307.36,23.66 307.58,22.09" fill="none" stroke="#70ad47" stroke-width="1.05"/>
<path d="M194.27,107.05 C194.67,105.26 195.61,99.67 196.68,96.32 C197.75,92.97 198.92,89.62 200.70,86.93 C202.49,84.25 204.95,82.02 207.41,80.23 C209.87,78.44 212.33,77.55 215.46,76.21 C218.58,74.87 222.16,73.52 226.18,72.18 C230.21,70.84 235.12,69.28 239.59,68.16 C244.06,67.04 249.20,66.15 253.00,65.48 C256.80,64.81 258.32,64.55 262.39,64.14 C266.46,63.72 272.67,63.74 277.41,62.99 C282.15,62.24 287.02,60.87 290.82,59.64 C294.62,58.41 297.52,57.40 300.21,55.62 C302.89,53.83 305.35,51.59 306.91,48.91 C308.48,46.23 309.04,43.10 309.59,39.52 C310.15,35.95 310.15,29.47 310.26,27.46" fill="none" stroke="#ffc000" stroke-width="1.3" stroke-dasharray="0.9 0.6"/>
<path d="M194.27,107.05 C194.67,105.40 195.61,100.30 196.68,97.13 C197.75,93.95 198.92,90.64 200.70,88.01 C202.49,85.37 204.95,83.09 207.41,81.30 C209.87,79.51 212.33,78.62 215.46,77.28 C218.58,75.94 222.16,74.60 226.18,73.26 C230.21,71.92 235.12,70.35 239.59,69.23 C244.06,68.12 249.20,67.22 253.00,66.55 C256.80,65.88 258.32,65.47 262.39,65.21 C266.46,64.95 272.67,65.66 277.41,65.00 C282.15,64.34 286.91,62.59 290.82,61.25 C294.73,59.91 298.08,58.79 300.88,56.96 C303.67,55.13 306.02,53.05 307.58,50.25 C309.15,47.46 309.71,43.77 310.26,40.20 C310.82,36.62 310.82,30.70 310.93,28.80" fill="none" stroke="#ffc000" stroke-width="1.1" stroke-dasharray="0.9 0.6"/>
<path d="M194.27,107.05 C194.89,105.26 196.28,99.23 198.02,96.32 C199.77,93.42 201.82,91.40 204.73,89.62 C207.63,87.83 211.43,86.71 215.46,85.59 C219.48,84.48 224.40,83.72 228.87,82.91 C233.34,82.11 237.81,81.30 242.28,80.77 C246.75,80.23 251.22,80.01 255.69,79.69 C260.16,79.38 264.63,79.25 269.10,78.89 C273.57,78.53 278.04,78.22 282.51,77.55 C286.98,76.88 292.56,75.41 295.92,74.87 C299.28,74.32 300.83,74.90 302.66,74.27 C304.49,73.64 305.74,72.33 306.88,71.10 C308.03,69.87 308.82,68.64 309.52,66.88 C310.22,65.12 310.58,62.66 311.10,60.55 C311.63,58.44 312.25,55.98 312.69,54.22 C313.13,52.46 313.59,51.11 313.74,50.00 C313.90,48.89 313.64,47.98 313.62,47.57" fill="none" stroke="#5b9bd5" stroke-width="1.2" stroke-dasharray="2.1 1.0 0.8 1.0"/>
<path d="M194.27,107.05 C194.89,105.93 196.28,102.22 198.02,100.34 C199.77,98.47 201.82,97.13 204.73,95.79 C207.63,94.44 211.88,93.10 215.46,92.30 C219.03,91.49 223.05,90.96 226.18,90.96 C229.31,90.96 232.44,91.40 234.23,92.30 C236.02,93.19 236.24,94.85 236.91,96.32 C237.58,97.80 237.81,101.37 238.25,101.15 C238.70,100.93 238.92,96.23 239.59,94.98 C240.26,93.73 240.93,94.09 242.28,93.64 C243.62,93.19 244.51,92.30 247.64,92.30 C250.77,92.30 256.58,93.55 261.05,93.64 C265.52,93.73 269.99,93.28 274.46,92.84 C278.93,92.39 285.28,91.50 287.87,90.96 C290.46,90.41 289.12,89.62 290.00,89.57 C290.88,89.51 292.29,90.27 293.17,90.62 C294.04,90.98 294.40,91.94 295.28,91.68 C296.16,91.41 297.21,90.18 298.44,89.04 C299.67,87.90 301.25,86.40 302.66,84.82 C304.07,83.24 305.48,81.48 306.88,79.54 C308.29,77.61 309.70,75.50 311.10,73.21 C312.51,70.93 314.09,68.29 315.32,65.83 C316.55,63.37 317.61,60.73 318.49,58.44 C319.37,56.16 320.07,53.52 320.60,52.11 C321.13,50.70 321.48,50.35 321.65,50.00" fill="none" stroke="#ed7d31" stroke-width="1.35" stroke-dasharray="2.8 1.3"/>
<path d="M194.27,107.05 C194.89,106.07 196.28,102.85 198.02,101.15 C199.77,99.45 201.82,98.11 204.73,96.86 C207.63,95.61 211.88,94.40 215.46,93.64 C219.03,92.88 220.82,92.30 226.18,92.30 C231.55,92.30 241.83,93.28 247.64,93.64 C253.45,94.00 256.58,94.44 261.05,94.44 C265.52,94.44 269.99,94.00 274.46,93.64 C278.93,93.28 285.28,92.36 287.87,92.30 C290.46,92.24 288.59,93.63 290.00,93.26 C291.41,92.89 294.40,91.50 296.33,90.10 C298.27,88.69 299.85,86.75 301.61,84.82 C303.37,82.89 305.12,80.78 306.88,78.49 C308.64,76.20 310.58,73.57 312.16,71.10 C313.74,68.64 315.06,66.18 316.38,63.72 C317.70,61.25 319.46,57.56 320.07,56.33" fill="none" stroke="#ed7d31" stroke-width="1.35" stroke-dasharray="2.8 1.3"/>
<path d="M194.27,107.05 C195.56,106.69 197.62,105.13 202.05,104.90 C206.47,104.68 213.22,105.57 220.82,105.71 C228.42,105.84 238.70,105.80 247.64,105.71 C256.58,105.62 267.75,105.40 274.46,105.17 C281.16,104.95 284.75,104.68 287.87,104.37 C290.99,104.05 291.58,103.73 293.17,103.29 C294.75,102.84 295.98,102.49 297.39,101.70 C298.79,100.91 300.38,99.77 301.61,98.54 C302.84,97.31 303.72,96.08 304.77,94.32 C305.83,92.56 306.97,90.10 307.94,87.99 C308.90,85.88 309.78,83.76 310.58,81.65 C311.37,79.54 312.11,76.82 312.69,75.32 C313.27,73.83 313.83,73.13 314.06,72.69" fill="none" stroke="#ff0000" stroke-width="1.3" stroke-dasharray="2.4 0.9 0.7 0.9 0.7 0.9"/>
<path d="M194.80,8.00V106.30H334.50" fill="none" stroke="#7a7a7a" stroke-width="0.9"/>
<path d="M193.00,106.30H194.80M193.00,103.49H194.80M193.00,100.68H194.80M193.00,97.87H194.80M193.00,95.07H194.80M193.00,92.26H194.80M193.00,89.45H194.80M193.00,86.64H194.80M193.00,83.83H194.80M193.00,81.02H194.80M193.00,78.21H194.80M193.00,75.41H194.80M193.00,72.60H194.80M193.00,69.79H194.80M193.00,66.98H194.80M193.00,64.17H194.80M193.00,61.36H194.80M193.00,58.55H194.80M193.00,55.75H194.80M193.00,52.94H194.80M193.00,50.13H194.80M193.00,47.32H194.80M193.00,44.51H194.80M193.00,41.70H194.80M193.00,38.89H194.80M193.00,36.09H194.80M193.00,33.28H194.80M193.00,30.47H194.80M193.00,27.66H194.80M193.00,24.85H194.80M193.00,22.04H194.80M193.00,19.23H194.80M193.00,16.43H194.80M193.00,13.62H194.80M193.00,10.81H194.80M193.00,8.00H194.80M194.80,106.30V108.10M201.79,106.30V108.10M208.77,106.30V108.10M215.75,106.30V108.10M222.74,106.30V108.10M229.73,106.30V108.10M236.71,106.30V108.10M243.69,106.30V108.10M250.68,106.30V108.10M257.67,106.30V108.10M264.65,106.30V108.10M271.63,106.30V108.10M278.62,106.30V108.10M285.61,106.30V108.10M292.59,106.30V108.10M299.57,106.30V108.10M306.56,106.30V108.10M313.55,106.30V108.10M320.53,106.30V108.10M327.51,106.30V108.10M334.50,106.30V108.10" stroke="#7a7a7a" stroke-width="0.6"/>
<text x="189.02" y="108.85" text-anchor="end" class="t">0</text>
<text x="189.02" y="94.81" text-anchor="end" class="t">1</text>
<text x="189.02" y="80.76" text-anchor="end" class="t">2</text>
<text x="189.02" y="66.72" text-anchor="end" class="t">3</text>
<text x="189.02" y="52.68" text-anchor="end" class="t">4</text>
<text x="189.02" y="38.64" text-anchor="end" class="t">5</text>
<text x="189.02" y="24.59" text-anchor="end" class="t">6</text>
<text x="189.02" y="10.55" text-anchor="end" class="t">7</text>
<text x="195.01" y="117.50" text-anchor="middle" class="t">0</text>
<text x="229.94" y="117.50" text-anchor="middle" class="t">0.2</text>
<text x="264.86" y="117.50" text-anchor="middle" class="t">0.4</text>
<text x="299.78" y="117.50" text-anchor="middle" class="t">0.6</text>
<text x="334.71" y="117.50" text-anchor="middle" class="t">0.8</text>
<text transform="translate(180.80,60.55) rotate(-90)" text-anchor="middle" class="lab">Stress (MPa)</text>
<text transform="translate(264.00,124.20) scale(0.96,1)" text-anchor="middle" class="lab">Strain</text>
<text x="264.00" y="137.90" text-anchor="middle" class="capT">(d)</text>
<line x1="202.00" y1="13.50" x2="206.50" y2="13.50" stroke="#ff0000" stroke-width="1.2" stroke-dasharray="3.2 0.9 0.8 0.9"/>
<text x="209.00" y="15.90" class="lg">11.3 ± 0.2%</text>
<line x1="202.00" y1="21.00" x2="206.50" y2="21.00" stroke="#ed7d31" stroke-width="1.2"/>
<text x="209.00" y="23.40" class="lg">16.1 ± 0.1%</text>
<line x1="202.00" y1="28.40" x2="206.50" y2="28.40" stroke="#5b9bd5" stroke-width="1.2" stroke-dasharray="2.4 1.0 0.8 1.0"/>
<text x="209.00" y="30.80" class="lg">19.2 ± 0.1%</text>
<line x1="202.00" y1="35.90" x2="206.50" y2="35.90" stroke="#ffc000" stroke-width="1.2" stroke-dasharray="0.9 0.6"/>
<text x="209.00" y="38.30" class="lg">24.0 ± 0.2%</text>
<line x1="202.00" y1="43.10" x2="208.00" y2="43.10" stroke="#70ad47" stroke-width="1.2"/>
<text x="209.00" y="45.50" class="lg">27.2 ± 0.6%</text>
<g transform="translate(314.80,14.60) scale(1.0)"><ellipse rx="5.6" ry="4.3" transform="rotate(-38)" fill="#bcbcbc"/><g stroke="#4e4e4e" stroke-width="1.15" fill="none" stroke-linecap="round"><path d="M-5,3.6L3.6,-4.6M-2,5L5.3,-1.6"/><ellipse cx="-2.6" cy="-1.6" rx="1.9" ry="1.5"/><ellipse cx="2.4" cy="2.2" rx="1.9" ry="1.5"/></g></g>
<g transform="translate(318.90,29.60) scale(1.0)"><ellipse rx="5.6" ry="4.3" transform="rotate(-38)" fill="#bcbcbc"/><g stroke="#4e4e4e" stroke-width="1.15" fill="none" stroke-linecap="round"><path d="M-5,3.6L3.6,-4.6M-2,5L5.3,-1.6"/><ellipse cx="-2.6" cy="-1.6" rx="1.9" ry="1.5"/><ellipse cx="2.4" cy="2.2" rx="1.9" ry="1.5"/></g></g>
<g transform="translate(323.00,45.90) scale(1.0)"><ellipse rx="5.6" ry="4.3" transform="rotate(-38)" fill="#bcbcbc"/><g stroke="#4e4e4e" stroke-width="1.15" fill="none" stroke-linecap="round"><path d="M-5,3.6L3.6,-4.6M-2,5L5.3,-1.6"/><ellipse cx="-2.6" cy="-1.6" rx="1.9" ry="1.5"/><ellipse cx="2.4" cy="2.2" rx="1.9" ry="1.5"/></g></g>
<g transform="translate(326.50,71.90) scale(1.0)"><ellipse rx="5.6" ry="4.3" transform="rotate(-38)" fill="#bcbcbc"/><g stroke="#4e4e4e" stroke-width="1.15" fill="none" stroke-linecap="round"><path d="M-5,3.6L3.6,-4.6M-2,5L5.3,-1.6"/><ellipse cx="-2.6" cy="-1.6" rx="1.9" ry="1.5"/><ellipse cx="2.4" cy="2.2" rx="1.9" ry="1.5"/></g></g>
<g transform="translate(322.30,86.60) scale(1.0)"><ellipse rx="5.6" ry="4.3" transform="rotate(-38)" fill="#bcbcbc"/><g stroke="#4e4e4e" stroke-width="1.15" fill="none" stroke-linecap="round"><path d="M-5,3.6L3.6,-4.6M-2,5L5.3,-1.6"/><ellipse cx="-2.6" cy="-1.6" rx="1.9" ry="1.5"/><ellipse cx="2.4" cy="2.2" rx="1.9" ry="1.5"/></g></g>
</g>
<g id="pe">
<rect x="197.00" y="142.90" width="139.70" height="97.80" fill="none" stroke="#a8a8a8" stroke-width="0.9"/>
<path d="M197.27,239.05 C197.67,236.81 198.83,229.66 199.68,225.64 C200.53,221.62 201.47,218.13 202.36,214.91 C203.26,211.69 203.93,209.01 205.05,206.33 C206.16,203.65 207.28,201.05 209.07,198.82 C210.86,196.58 212.87,194.71 215.77,192.92 C218.68,191.13 222.93,189.57 226.50,188.09 C230.08,186.62 233.21,185.41 237.23,184.07 C241.25,182.73 246.62,181.21 250.64,180.05 C254.66,178.88 258.52,177.90 261.37,177.10 C264.22,176.29 265.49,176.00 267.75,175.20 C270.01,174.41 272.78,173.41 274.93,172.33 C277.09,171.25 279.24,170.29 280.68,168.74 C282.11,167.18 282.88,165.50 283.55,162.99 C284.22,160.47 284.51,155.21 284.70,153.65" fill="none" stroke="#70ad47" stroke-width="1.05"/>
<path d="M197.27,239.05 C197.76,237.26 199.28,231.81 200.22,228.32 C201.16,224.84 201.96,221.26 202.90,218.13 C203.84,215.00 204.60,212.23 205.85,209.55 C207.10,206.87 208.53,204.27 210.41,202.04 C212.29,199.80 214.21,197.93 217.11,196.14 C220.02,194.35 224.27,192.79 227.84,191.31 C231.42,189.84 234.55,188.58 238.57,187.29 C242.59,185.99 248.18,184.61 251.98,183.53 C255.78,182.46 258.74,181.93 261.37,180.85 C264.00,179.77 265.37,178.18 267.75,177.07 C270.13,175.96 273.37,175.34 275.65,174.20 C277.92,173.05 280.03,171.68 281.40,170.17 C282.76,168.66 283.24,167.54 283.84,165.14 C284.44,162.75 284.80,157.36 284.99,155.80" fill="none" stroke="#70ad47" stroke-width="1.05"/>
<path d="M197.27,239.05 C197.67,237.49 198.83,232.57 199.68,229.66 C200.53,226.76 201.02,224.08 202.36,221.62 C203.70,219.16 205.49,216.57 207.73,214.91 C209.96,213.26 212.20,212.81 215.77,211.69 C219.35,210.58 224.71,209.37 229.18,208.21 C233.65,207.04 238.12,205.84 242.59,204.72 C247.06,203.60 252.87,202.22 256.00,201.50 C259.13,200.79 258.69,201.10 261.37,200.43 C264.04,199.76 268.84,198.44 272.06,197.47 C275.28,196.50 278.52,195.68 280.68,194.60 C282.83,193.52 283.91,192.68 284.99,191.01 C286.07,189.33 286.66,186.93 287.14,184.54 C287.62,182.15 287.74,177.95 287.86,176.64" fill="none" stroke="#ffc000" stroke-width="1.6" stroke-dasharray="0.9 0.6"/>
<path d="M197.27,239.05 C197.89,237.49 199.73,232.12 201.02,229.66 C202.32,227.20 203.03,225.64 205.05,224.30 C207.06,222.96 209.96,222.29 213.09,221.62 C216.22,220.95 219.80,220.72 223.82,220.28 C227.84,219.83 232.76,219.29 237.23,218.93 C241.70,218.58 246.17,218.26 250.64,218.13 C255.11,218.00 260.47,217.77 264.05,218.13 C267.63,218.49 269.41,220.14 272.10,220.28 C274.78,220.41 277.91,219.83 280.14,218.93 C282.38,218.04 284.08,216.92 285.51,214.91 C286.94,212.90 287.92,209.55 288.72,206.87 C289.53,204.18 290.07,200.16 290.33,198.82" fill="none" stroke="#5b9bd5" stroke-width="1.15" stroke-dasharray="2.1 1.0 0.8 1.0"/>
<path d="M197.27,239.05 C197.89,237.71 199.73,233.02 201.02,231.00 C202.32,228.99 203.03,228.10 205.05,226.98 C207.06,225.86 209.96,224.97 213.09,224.30 C216.22,223.63 219.80,223.36 223.82,222.96 C227.84,222.56 232.76,222.33 237.23,221.89 C241.70,221.44 246.17,220.63 250.64,220.28 C255.11,219.92 260.03,219.52 264.05,219.74 C268.07,219.96 271.65,221.53 274.78,221.62 C277.91,221.71 280.81,221.39 282.82,220.28 C284.84,219.16 285.73,217.15 286.85,214.91 C287.96,212.68 289.08,208.21 289.53,206.87" fill="none" stroke="#5b9bd5" stroke-width="1.15" stroke-dasharray="2.1 1.0 0.8 1.0"/>
<path d="M197.27,239.05 C197.89,238.51 199.28,236.81 201.02,235.83 C202.77,234.85 204.82,233.95 207.73,233.15 C210.63,232.34 214.43,231.54 218.46,231.00 C222.48,230.47 226.50,230.20 231.87,229.93 C237.23,229.66 244.38,229.57 250.64,229.39 C256.90,229.22 263.60,229.04 269.41,228.86 C275.22,228.68 281.93,228.63 285.51,228.32 C289.08,228.01 289.53,227.87 290.87,226.98 C292.21,226.09 292.66,224.75 293.55,222.96 C294.45,221.17 295.43,218.49 296.23,216.25 C297.04,214.02 298.02,210.67 298.38,209.55" fill="none" stroke="#ed7d31" stroke-width="1.5" stroke-dasharray="2.8 1.3"/>
<path d="M197.27,239.05 C199.46,238.96 203.75,238.60 210.41,238.51 C217.07,238.42 228.29,238.51 237.23,238.51 C246.17,238.51 256.45,238.60 264.05,238.51 C271.65,238.42 278.35,238.33 282.82,237.98 C287.29,237.62 288.19,237.08 290.87,236.37 C293.55,235.65 296.68,234.80 298.92,233.69 C301.15,232.57 302.49,231.23 304.28,229.66 C306.07,228.10 308.30,225.86 309.64,224.30 C310.98,222.73 311.88,220.95 312.33,220.28" fill="none" stroke="#ff0000" stroke-width="1.4" stroke-dasharray="2.4 0.9 0.7 0.9 0.7 0.9"/>
<path d="M288.19,237.98 C289.53,237.62 293.55,236.77 296.23,235.83 C298.92,234.89 301.82,233.82 304.28,232.34 C306.74,230.87 309.20,228.77 310.98,226.98 C312.77,225.19 314.34,222.51 315.01,221.62" fill="none" stroke="#ff0000" stroke-width="0.8" stroke-dasharray="2.4 0.9 0.7 0.9 0.7 0.9"/>
<path d="M197.00,142.90V240.70H336.70" fill="none" stroke="#7a7a7a" stroke-width="0.9"/>
<path d="M195.20,240.70H197.00M195.20,236.79H197.00M195.20,232.88H197.00M195.20,228.96H197.00M195.20,225.05H197.00M195.20,221.14H197.00M195.20,217.23H197.00M195.20,213.32H197.00M195.20,209.40H197.00M195.20,205.49H197.00M195.20,201.58H197.00M195.20,197.67H197.00M195.20,193.76H197.00M195.20,189.84H197.00M195.20,185.93H197.00M195.20,182.02H197.00M195.20,178.11H197.00M195.20,174.20H197.00M195.20,170.28H197.00M195.20,166.37H197.00M195.20,162.46H197.00M195.20,158.55H197.00M195.20,154.64H197.00M195.20,150.72H197.00M195.20,146.81H197.00M195.20,142.90H197.00M197.00,240.70V242.50M203.99,240.70V242.50M210.97,240.70V242.50M217.95,240.70V242.50M224.94,240.70V242.50M231.93,240.70V242.50M238.91,240.70V242.50M245.89,240.70V242.50M252.88,240.70V242.50M259.87,240.70V242.50M266.85,240.70V242.50M273.83,240.70V242.50M280.82,240.70V242.50M287.81,240.70V242.50M294.79,240.70V242.50M301.77,240.70V242.50M308.76,240.70V242.50M315.75,240.70V242.50M322.73,240.70V242.50M329.71,240.70V242.50M336.70,240.70V242.50" stroke="#7a7a7a" stroke-width="0.6"/>
<text x="191.22" y="243.25" text-anchor="end" class="t">0</text>
<text x="191.22" y="223.69" text-anchor="end" class="t">1</text>
<text x="191.22" y="204.13" text-anchor="end" class="t">2</text>
<text x="191.22" y="184.57" text-anchor="end" class="t">3</text>
<text x="191.22" y="165.01" text-anchor="end" class="t">4</text>
<text x="191.22" y="145.45" text-anchor="end" class="t">5</text>
<text x="197.21" y="251.90" text-anchor="middle" class="t">0</text>
<text x="232.14" y="251.90" text-anchor="middle" class="t">0.2</text>
<text x="267.06" y="251.90" text-anchor="middle" class="t">0.4</text>
<text x="301.98" y="251.90" text-anchor="middle" class="t">0.6</text>
<text x="336.91" y="251.90" text-anchor="middle" class="t">0.8</text>
<text transform="translate(181.40,196.40) rotate(-90)" text-anchor="middle" class="lab">Stress (MPa)</text>
<text transform="translate(267.50,259.60) scale(0.96,1)" text-anchor="middle" class="lab">Strain</text>
<text x="269.50" y="270.10" text-anchor="middle" class="capT">(e)</text>
<line x1="202.50" y1="147.00" x2="207.50" y2="147.00" stroke="#ff0000" stroke-width="1.2" stroke-dasharray="3.2 0.9 0.8 0.9"/>
<text x="210.00" y="149.40" class="lg">7.4 ± 0.1%</text>
<line x1="202.50" y1="154.70" x2="207.50" y2="154.70" stroke="#ed7d31" stroke-width="1.2"/>
<text x="210.00" y="157.10" class="lg">13.6 ± 0.2%</text>
<line x1="202.50" y1="162.40" x2="207.50" y2="162.40" stroke="#5b9bd5" stroke-width="1.2" stroke-dasharray="2.4 1.0 0.8 1.0"/>
<text x="210.00" y="164.80" class="lg">18.5 ± 0.2%</text>
<line x1="202.50" y1="169.90" x2="207.50" y2="169.90" stroke="#ffc000" stroke-width="1.2" stroke-dasharray="0.9 0.6"/>
<text x="210.00" y="172.30" class="lg">23.3 ± 0.2%</text>
<line x1="202.50" y1="177.40" x2="209.00" y2="177.40" stroke="#70ad47" stroke-width="1.2"/>
<text x="210.00" y="179.80" class="lg">28.2 ± 0.0%</text>
<g transform="translate(294.00,152.40) scale(1.0)"><path d="M0,0L6.95,1.86M0,0L1.86,6.95M0,0L-5.09,5.09M0,0L-6.95,-1.86M0,0L-1.86,-6.95M0,0L5.09,-5.09" stroke="#4a4a4a" stroke-width="1.5" fill="none"/><g fill="#bbb" stroke="#4a4a4a" stroke-width="0.6"><circle cx="6.95" cy="1.86" r="1.5"/><circle cx="1.86" cy="6.95" r="1.5"/><circle cx="-5.09" cy="5.09" r="1.5"/><circle cx="-6.95" cy="-1.86" r="1.5"/><circle cx="-1.86" cy="-6.95" r="1.5"/><circle cx="5.09" cy="-5.09" r="1.5"/></g><circle r="1.9" fill="#4a4a4a"/></g>
<g transform="translate(297.40,173.10) scale(1.0)"><path d="M0,0L6.28,1.68M0,0L1.68,6.28M0,0L-4.60,4.60M0,0L-6.28,-1.68M0,0L-1.68,-6.28M0,0L4.60,-4.60" stroke="#4a4a4a" stroke-width="1.3" fill="none"/><g fill="#bbb" stroke="#4a4a4a" stroke-width="0.6"><circle cx="6.28" cy="1.68" r="1.3"/><circle cx="1.68" cy="6.28" r="1.3"/><circle cx="-4.60" cy="4.60" r="1.3"/><circle cx="-6.28" cy="-1.68" r="1.3"/><circle cx="-1.68" cy="-6.28" r="1.3"/><circle cx="4.60" cy="-4.60" r="1.3"/></g><circle r="1.9" fill="#4a4a4a"/></g>
<g transform="translate(300.20,191.00) scale(1.0)"><path d="M0,0L5.89,1.58M0,0L1.58,5.89M0,0L-4.31,4.31M0,0L-5.89,-1.58M0,0L-1.58,-5.89M0,0L4.31,-4.31" stroke="#4a4a4a" stroke-width="1.2" fill="none"/><g fill="#bbb" stroke="#4a4a4a" stroke-width="0.6"><circle cx="5.89" cy="1.58" r="1.1"/><circle cx="1.58" cy="5.89" r="1.1"/><circle cx="-4.31" cy="4.31" r="1.1"/><circle cx="-5.89" cy="-1.58" r="1.1"/><circle cx="-1.58" cy="-5.89" r="1.1"/><circle cx="4.31" cy="-4.31" r="1.1"/></g><circle r="1.9" fill="#4a4a4a"/></g>
<g transform="translate(309.20,206.10) scale(1.0)"><path d="M0,0L5.89,1.58M0,0L1.58,5.89M0,0L-4.31,4.31M0,0L-5.89,-1.58M0,0L-1.58,-5.89M0,0L4.31,-4.31" stroke="#4a4a4a" stroke-width="1.2" fill="none"/><g fill="#bbb" stroke="#4a4a4a" stroke-width="0.6"><circle cx="5.89" cy="1.58" r="1.0"/><circle cx="1.58" cy="5.89" r="1.0"/><circle cx="-4.31" cy="4.31" r="1.0"/><circle cx="-5.89" cy="-1.58" r="1.0"/><circle cx="-1.58" cy="-5.89" r="1.0"/><circle cx="4.31" cy="-4.31" r="1.0"/></g><circle r="1.9" fill="#4a4a4a"/></g>
<g transform="translate(325.90,219.60) scale(1.0)" opacity="0.85"><path d="M0,0L5.99,1.60M0,0L1.60,5.99M0,0L-4.38,4.38M0,0L-5.99,-1.60M0,0L-1.60,-5.99M0,0L4.38,-4.38" stroke="#4a4a4a" stroke-width="0.9" fill="none"/><g fill="#bbb" stroke="#4a4a4a" stroke-width="0.6"><circle cx="5.99" cy="1.60" r="0.7"/><circle cx="1.60" cy="5.99" r="0.7"/><circle cx="-4.38" cy="4.38" r="0.7"/><circle cx="-5.99" cy="-1.60" r="0.7"/><circle cx="-1.60" cy="-5.99" r="0.7"/><circle cx="4.38" cy="-4.38" r="0.7"/></g><circle r="1.9" fill="#4a4a4a"/></g>
</g>
<g id="pf">
<rect x="197.50" y="274.00" width="138.90" height="98.30" fill="none" stroke="#a8a8a8" stroke-width="0.9"/>
<path d="M197.27,371.20 C197.58,368.16 198.52,358.23 199.15,352.96 C199.77,347.68 200.26,343.35 201.02,339.55 C201.78,335.75 202.59,332.62 203.70,330.16 C204.82,327.70 206.16,326.27 207.73,324.80 C209.29,323.32 210.86,322.25 213.09,321.31 C215.33,320.37 218.01,319.70 221.14,319.16 C224.27,318.63 228.83,318.40 231.87,318.09 C234.91,317.78 236.42,317.45 239.38,317.29 C242.33,317.12 246.28,317.68 249.58,317.09 C252.88,316.50 255.96,315.09 259.16,313.74 C262.35,312.38 265.86,310.70 268.74,308.95 C271.61,307.19 274.32,305.27 276.40,303.20 C278.47,301.12 279.99,298.57 281.19,296.49 C282.39,294.42 283.18,291.70 283.58,290.75" fill="none" stroke="#70ad47" stroke-width="1.6"/>
<path d="M197.27,371.20 C197.67,369.72 198.83,365.16 199.68,362.34 C200.53,359.53 201.02,356.53 202.36,354.30 C203.70,352.06 205.49,350.37 207.73,348.93 C209.96,347.50 212.64,346.61 215.77,345.72 C218.90,344.82 222.48,344.15 226.50,343.57 C230.52,342.99 235.44,342.68 239.91,342.23 C244.38,341.78 249.75,341.34 253.32,340.89 C256.90,340.44 258.01,340.13 261.37,339.55 C264.73,338.96 270.04,338.33 273.49,337.37 C276.95,336.41 279.60,335.10 282.11,333.78 C284.63,332.46 287.02,331.15 288.58,329.47 C290.14,327.80 290.74,325.88 291.45,323.72 C292.17,321.57 292.65,317.74 292.89,316.54" fill="none" stroke="#ffc000" stroke-width="2.2" stroke-dasharray="0.9 0.6"/>
<path d="M197.27,371.20 C197.76,369.94 198.92,365.83 200.22,363.69 C201.51,361.54 202.90,359.75 205.05,358.32 C207.19,356.89 209.96,355.91 213.09,355.10 C216.22,354.30 219.80,353.94 223.82,353.49 C227.84,353.05 232.76,352.73 237.23,352.42 C241.70,352.11 246.17,351.97 250.64,351.62 C255.11,351.26 259.58,350.72 264.05,350.28 C268.52,349.83 273.44,349.47 277.46,348.93 C281.48,348.40 285.51,347.73 288.19,347.06 C290.87,346.39 292.21,346.16 293.55,344.91 C294.89,343.66 295.56,341.56 296.23,339.55 C296.90,337.54 297.35,333.96 297.57,332.84" fill="none" stroke="#5b9bd5" stroke-width="1.2" stroke-dasharray="2.1 1.0 0.8 1.0"/>
<path d="M197.27,371.20 C197.89,370.61 199.28,368.74 201.02,367.71 C202.77,366.68 204.82,365.70 207.73,365.03 C210.63,364.36 213.54,364.13 218.46,363.69 C223.37,363.24 230.97,362.70 237.23,362.34 C243.49,361.99 249.30,361.85 256.00,361.54 C262.71,361.23 271.65,360.78 277.46,360.47 C283.27,360.15 287.52,360.02 290.87,359.66 C294.22,359.31 295.79,358.99 297.57,358.32 C299.36,357.65 300.57,356.98 301.60,355.64 C302.63,354.30 303.39,351.17 303.74,350.28" fill="none" stroke="#ed7d31" stroke-width="1.2" stroke-dasharray="2.8 1.3"/>
<path d="M197.27,371.20 C199.46,370.97 203.75,370.12 210.41,369.85 C217.07,369.59 228.29,369.72 237.23,369.59 C246.17,369.45 256.00,369.23 264.05,369.05 C272.10,368.87 279.69,368.74 285.51,368.51 C291.32,368.29 295.79,367.98 298.92,367.71 C302.04,367.44 302.94,367.35 304.28,366.90 C305.62,366.46 306.29,365.79 306.96,365.03 C307.63,364.27 308.08,362.79 308.30,362.34" fill="none" stroke="#ff0000" stroke-width="1.2" stroke-dasharray="2.4 0.9 0.7 0.9 0.7 0.9"/>
<path d="M197.50,274.00V372.30H336.40" fill="none" stroke="#7a7a7a" stroke-width="0.9"/>
<path d="M195.70,372.30H197.50M195.70,369.02H197.50M195.70,365.75H197.50M195.70,362.47H197.50M195.70,359.19H197.50M195.70,355.92H197.50M195.70,352.64H197.50M195.70,349.36H197.50M195.70,346.09H197.50M195.70,342.81H197.50M195.70,339.53H197.50M195.70,336.26H197.50M195.70,332.98H197.50M195.70,329.70H197.50M195.70,326.43H197.50M195.70,323.15H197.50M195.70,319.87H197.50M195.70,316.60H197.50M195.70,313.32H197.50M195.70,310.04H197.50M195.70,306.77H197.50M195.70,303.49H197.50M195.70,300.21H197.50M195.70,296.94H197.50M195.70,293.66H197.50M195.70,290.38H197.50M195.70,287.11H197.50M195.70,283.83H197.50M195.70,280.55H197.50M195.70,277.28H197.50M195.70,274.00H197.50M197.50,372.30V374.10M203.06,372.30V374.10M208.61,372.30V374.10M214.17,372.30V374.10M219.72,372.30V374.10M225.28,372.30V374.10M230.84,372.30V374.10M236.39,372.30V374.10M241.95,372.30V374.10M247.50,372.30V374.10M253.06,372.30V374.10M258.62,372.30V374.10M264.17,372.30V374.10M269.73,372.30V374.10M275.28,372.30V374.10M280.84,372.30V374.10M286.40,372.30V374.10M291.95,372.30V374.10M297.51,372.30V374.10M303.06,372.30V374.10M308.62,372.30V374.10M314.18,372.30V374.10M319.73,372.30V374.10M325.29,372.30V374.10M330.84,372.30V374.10M336.40,372.30V374.10" stroke="#7a7a7a" stroke-width="0.6"/>
<text x="191.72" y="374.85" text-anchor="end" class="t">0</text>
<text x="191.72" y="358.47" text-anchor="end" class="t">1</text>
<text x="191.72" y="342.08" text-anchor="end" class="t">2</text>
<text x="191.72" y="325.70" text-anchor="end" class="t">3</text>
<text x="191.72" y="309.32" text-anchor="end" class="t">4</text>
<text x="191.72" y="292.93" text-anchor="end" class="t">5</text>
<text x="191.72" y="276.55" text-anchor="end" class="t">6</text>
<text x="197.71" y="383.50" text-anchor="middle" class="t">0</text>
<text x="225.49" y="383.50" text-anchor="middle" class="t">0.2</text>
<text x="253.27" y="383.50" text-anchor="middle" class="t">0.4</text>
<text x="281.05" y="383.50" text-anchor="middle" class="t">0.6</text>
<text x="308.83" y="383.50" text-anchor="middle" class="t">0.8</text>
<text x="336.61" y="383.50" text-anchor="middle" class="t">1</text>
<text transform="translate(181.90,327.20) rotate(-90)" text-anchor="middle" class="lab">Stress (MPa)</text>
<text transform="translate(266.80,391.20) scale(0.96,1)" text-anchor="middle" class="lab">Strain</text>
<text x="264.00" y="405.40" text-anchor="middle" class="capT">(f)</text>
<line x1="202.50" y1="280.20" x2="208.00" y2="280.20" stroke="#ff0000" stroke-width="1.2" stroke-dasharray="3.2 0.9 0.8 0.9"/>
<text x="210.00" y="282.60" class="lg">6.5 ± 0.0%</text>
<line x1="202.50" y1="287.90" x2="208.00" y2="287.90" stroke="#ed7d31" stroke-width="1.2"/>
<text x="210.00" y="290.30" class="lg">11.8 ± 0.2%</text>
<line x1="202.50" y1="295.40" x2="208.00" y2="295.40" stroke="#5b9bd5" stroke-width="1.2" stroke-dasharray="2.4 1.0 0.8 1.0"/>
<text x="210.00" y="297.80" class="lg">17.0 ± 0.2%</text>
<line x1="202.50" y1="302.90" x2="208.00" y2="302.90" stroke="#ffc000" stroke-width="1.2" stroke-dasharray="0.9 0.6"/>
<text x="210.00" y="305.30" class="lg">20.9 ± 0.2%</text>
<line x1="202.50" y1="310.60" x2="209.50" y2="310.60" stroke="#70ad47" stroke-width="1.2"/>
<text x="210.00" y="313.00" class="lg">27.1 ± 0.2%</text>
<g transform="translate(294.10,286.90) scale(1.0)"><path d="M-6.5,-3.5L-1.5,-5.5L3.5,-6.5L6,-1L4,5.5L0,3.5L-5,6L-3.5,0.5Z" fill="#e2e2e2" stroke="#555" stroke-width="1.0" stroke-linejoin="round"/><path d="M-1.5,-5.5L-2,2M-6.5,-3.5L1,-1.5L6,-1M1,-1.5L0,3.5" stroke="#666" stroke-width="0.8" fill="none"/><circle cx="2.5" cy="0.8" r="2.1" fill="#f4f4f4"/></g>
<g transform="translate(300.20,307.50) scale(0.95)"><path d="M-6.5,-3.5L-1.5,-5.5L3.5,-6.5L6,-1L4,5.5L0,3.5L-5,6L-3.5,0.5Z" fill="#e2e2e2" stroke="#555" stroke-width="1.0" stroke-linejoin="round"/><path d="M-1.5,-5.5L-2,2M-6.5,-3.5L1,-1.5L6,-1M1,-1.5L0,3.5" stroke="#666" stroke-width="0.8" fill="none"/><circle cx="2.5" cy="0.8" r="2.1" fill="#f4f4f4"/></g>
<g transform="translate(307.80,325.50) scale(0.95)"><path d="M-6.5,-3.5L-1.5,-5.5L3.5,-6.5L6,-1L4,5.5L0,3.5L-5,6L-3.5,0.5Z" fill="#e2e2e2" stroke="#555" stroke-width="1.0" stroke-linejoin="round"/><path d="M-1.5,-5.5L-2,2M-6.5,-3.5L1,-1.5L6,-1M1,-1.5L0,3.5" stroke="#666" stroke-width="0.8" fill="none"/><circle cx="2.5" cy="0.8" r="2.1" fill="#f4f4f4"/></g>
<g transform="translate(315.50,343.40) scale(0.95)"><path d="M-6.5,-3.5L-1.5,-5.5L3.5,-6.5L6,-1L4,5.5L0,3.5L-5,6L-3.5,0.5Z" fill="#e2e2e2" stroke="#555" stroke-width="1.0" stroke-linejoin="round"/><path d="M-1.5,-5.5L-2,2M-6.5,-3.5L1,-1.5L6,-1M1,-1.5L0,3.5" stroke="#666" stroke-width="0.8" fill="none"/><circle cx="2.5" cy="0.8" r="2.1" fill="#f4f4f4"/></g>
<g transform="translate(321.00,362.00) scale(0.95)"><path d="M-6.5,-3.5L-1.5,-5.5L3.5,-6.5L6,-1L4,5.5L0,3.5L-5,6L-3.5,0.5Z" fill="#e2e2e2" stroke="#555" stroke-width="1.0" stroke-linejoin="round"/><path d="M-1.5,-5.5L-2,2M-6.5,-3.5L1,-1.5L6,-1M1,-1.5L0,3.5" stroke="#666" stroke-width="0.8" fill="none"/><circle cx="2.5" cy="0.8" r="2.1" fill="#f4f4f4"/></g>
</g>
<g id="pg">
<rect x="199.20" y="413.60" width="139.20" height="98.20" fill="none" stroke="#a8a8a8" stroke-width="0.9"/>
<path d="M199.30,511.50 C199.48,510.09 199.84,507.57 200.40,503.03 C200.97,498.49 201.63,489.17 202.68,484.25 C203.73,479.34 204.92,476.77 206.70,473.52 C208.49,470.28 211.17,466.93 213.41,464.81 C215.64,462.69 217.88,461.79 220.11,460.79 C222.35,459.78 223.47,459.56 226.82,458.77 C230.17,457.99 235.76,456.76 240.23,456.09 C244.70,455.42 249.62,455.20 253.64,454.75 C257.66,454.30 261.13,453.86 264.37,453.41 C267.60,452.96 270.48,452.74 273.05,452.07 C275.61,451.40 277.96,450.28 279.75,449.39 C281.54,448.49 282.66,447.82 283.77,446.70 C284.89,445.59 285.44,444.85 286.46,442.68 C287.47,440.52 289.29,435.20 289.86,433.71" fill="none" stroke="#70ad47" stroke-width="1.1"/>
<path d="M199.30,511.50 C199.64,509.86 200.55,505.11 201.34,501.69 C202.13,498.26 202.91,494.09 204.02,490.96 C205.14,487.83 206.48,485.15 208.05,482.91 C209.61,480.68 211.40,478.89 213.41,477.55 C215.42,476.21 217.88,475.54 220.11,474.87 C222.35,474.20 223.47,473.97 226.82,473.52 C230.17,473.08 235.76,472.41 240.23,472.18 C244.70,471.96 249.62,472.34 253.64,472.18 C257.66,472.03 261.13,471.58 264.37,471.25 C267.60,470.91 270.26,470.69 273.05,470.17 C275.83,469.66 278.63,468.94 281.09,468.16 C283.55,467.38 286.01,466.60 287.80,465.48 C289.58,464.36 290.81,463.02 291.82,461.46 C292.83,459.89 293.32,457.60 293.83,456.09 C294.34,454.58 294.71,453.00 294.89,452.39" fill="none" stroke="#ffc000" stroke-width="1.4" stroke-dasharray="0.9 0.6"/>
<path d="M199.30,511.50 C199.64,510.31 200.55,506.67 201.34,504.37 C202.13,502.06 202.46,499.79 204.02,497.66 C205.59,495.54 208.05,493.15 210.73,491.63 C213.41,490.11 216.32,489.21 220.11,488.54 C223.91,487.87 227.94,487.72 233.52,487.61 C239.11,487.49 248.50,487.90 253.64,487.87 C258.78,487.85 260.24,487.74 264.37,487.47 C268.50,487.20 273.83,486.69 278.41,486.26 C282.99,485.84 288.69,485.59 291.82,484.92 C294.95,484.25 295.84,483.47 297.18,482.24 C298.52,481.01 299.08,479.22 299.87,477.55 C300.65,475.87 301.21,474.08 301.88,472.18 C302.55,470.28 303.55,467.16 303.89,466.15" fill="none" stroke="#5b9bd5" stroke-width="1.2" stroke-dasharray="2.1 1.0 0.8 1.0"/>
<path d="M199.30,511.50 C199.64,510.76 200.55,508.35 201.34,507.05 C202.13,505.75 202.46,504.70 204.02,503.70 C205.59,502.69 208.05,501.57 210.73,501.02 C213.41,500.46 216.32,500.41 220.11,500.34 C223.91,500.28 227.94,500.50 233.52,500.61 C239.11,500.72 248.50,500.95 253.64,501.02 C258.78,501.08 259.12,501.13 264.37,501.02 C269.61,500.90 278.98,500.57 285.11,500.34 C291.25,500.12 297.85,500.34 301.21,499.67 C304.56,499.00 304.11,498.00 305.23,496.32 C306.35,494.65 307.02,492.08 307.91,489.62 C308.81,487.16 310.15,482.91 310.59,481.57" fill="none" stroke="#ed7d31" stroke-width="1.2" stroke-dasharray="2.8 1.3"/>
<path d="M199.30,511.50 C199.86,511.16 200.33,509.83 202.68,509.46 C205.03,509.10 207.15,509.33 213.41,509.33 C219.67,509.33 231.74,509.44 240.23,509.46 C248.72,509.49 256.89,509.46 264.37,509.46 C271.85,509.46 279.42,509.87 285.11,509.46 C290.81,509.06 295.17,507.90 298.52,507.05 C301.88,506.20 302.99,506.16 305.23,504.37 C307.46,502.58 309.92,499.45 311.93,496.32 C313.95,493.19 316.40,487.38 317.30,485.59" fill="none" stroke="#ff0000" stroke-width="1.3" stroke-dasharray="2.4 0.9 0.7 0.9 0.7 0.9"/>
<path d="M199.20,413.60V511.80H338.40" fill="none" stroke="#7a7a7a" stroke-width="0.9"/>
<path d="M197.40,511.80H199.20M197.40,508.99H199.20M197.40,506.19H199.20M197.40,503.38H199.20M197.40,500.58H199.20M197.40,497.77H199.20M197.40,494.97H199.20M197.40,492.16H199.20M197.40,489.35H199.20M197.40,486.55H199.20M197.40,483.74H199.20M197.40,480.94H199.20M197.40,478.13H199.20M197.40,475.33H199.20M197.40,472.52H199.20M197.40,469.71H199.20M197.40,466.91H199.20M197.40,464.10H199.20M197.40,461.30H199.20M197.40,458.49H199.20M197.40,455.69H199.20M197.40,452.88H199.20M197.40,450.07H199.20M197.40,447.27H199.20M197.40,444.46H199.20M197.40,441.66H199.20M197.40,438.85H199.20M197.40,436.05H199.20M197.40,433.24H199.20M197.40,430.43H199.20M197.40,427.63H199.20M197.40,424.82H199.20M197.40,422.02H199.20M197.40,419.21H199.20M197.40,416.41H199.20M197.40,413.60H199.20M199.20,511.80V513.60M206.16,511.80V513.60M213.12,511.80V513.60M220.08,511.80V513.60M227.04,511.80V513.60M234.00,511.80V513.60M240.96,511.80V513.60M247.92,511.80V513.60M254.88,511.80V513.60M261.84,511.80V513.60M268.80,511.80V513.60M275.76,511.80V513.60M282.72,511.80V513.60M289.68,511.80V513.60M296.64,511.80V513.60M303.60,511.80V513.60M310.56,511.80V513.60M317.52,511.80V513.60M324.48,511.80V513.60M331.44,511.80V513.60M338.40,511.80V513.60" stroke="#7a7a7a" stroke-width="0.6"/>
<text x="193.42" y="514.35" text-anchor="end" class="t">0</text>
<text x="193.42" y="500.32" text-anchor="end" class="t">0.5</text>
<text x="193.42" y="486.29" text-anchor="end" class="t">1</text>
<text x="193.42" y="472.26" text-anchor="end" class="t">1.5</text>
<text x="193.42" y="458.24" text-anchor="end" class="t">2</text>
<text x="193.42" y="444.21" text-anchor="end" class="t">2.5</text>
<text x="193.42" y="430.18" text-anchor="end" class="t">3</text>
<text x="193.42" y="416.15" text-anchor="end" class="t">3.5</text>
<text x="199.41" y="523.00" text-anchor="middle" class="t">0</text>
<text x="234.21" y="523.00" text-anchor="middle" class="t">0.2</text>
<text x="269.01" y="523.00" text-anchor="middle" class="t">0.4</text>
<text x="303.81" y="523.00" text-anchor="middle" class="t">0.6</text>
<text x="338.61" y="523.00" text-anchor="middle" class="t">0.8</text>
<text transform="translate(182.30,466.00) rotate(-90)" text-anchor="middle" class="lab">Stress (MPa)</text>
<text transform="translate(269.10,530.50) scale(0.96,1)" text-anchor="middle" class="lab">Strain</text>
<text x="264.00" y="542.90" text-anchor="middle" class="capT">(g)</text>
<line x1="206.00" y1="418.30" x2="211.00" y2="418.30" stroke="#ff0000" stroke-width="1.2" stroke-dasharray="3.2 0.9 0.8 0.9"/>
<text x="213.40" y="420.70" class="lg">10.0 ± 0.2%</text>
<line x1="206.00" y1="426.00" x2="211.00" y2="426.00" stroke="#ed7d31" stroke-width="1.2"/>
<text x="213.40" y="428.40" class="lg">13.7 ± 0.0%</text>
<line x1="206.00" y1="433.50" x2="211.00" y2="433.50" stroke="#5b9bd5" stroke-width="1.2" stroke-dasharray="2.4 1.0 0.8 1.0"/>
<text x="213.40" y="435.90" class="lg">17.4 ± 0.4%</text>
<line x1="206.00" y1="441.00" x2="211.00" y2="441.00" stroke="#ffc000" stroke-width="1.2" stroke-dasharray="0.9 0.6"/>
<text x="213.40" y="443.40" class="lg">20.7 ± 0.1%</text>
<line x1="206.00" y1="448.70" x2="212.50" y2="448.70" stroke="#70ad47" stroke-width="1.2"/>
<text x="213.40" y="451.10" class="lg">23.6 ± 0.1%</text>
<g transform="translate(298.50,425.50) scale(1)"><path d="M-6.8,-4.5L-3,-6.2L0,-4.8L3.5,-6.6L6.8,-4L5.2,0L7,4.2L3,6.4L0,4.8L-3.5,6.6L-6.8,4L-5,0Z" fill="#bdbdbd"/><g fill="#4a4a4a"><circle cx="-5.89" cy="-5.05" r="0.88"/><circle cx="-5.83" cy="2.70" r="1.22"/><circle cx="-5.55" cy="5.56" r="1.03"/><circle cx="-2.68" cy="-5.41" r="1.08"/><circle cx="-2.63" cy="-0.32" r="1.07"/><circle cx="-3.09" cy="2.57" r="0.97"/><circle cx="-0.29" cy="-5.04" r="0.80"/><circle cx="-0.35" cy="3.05" r="0.89"/><circle cx="-0.29" cy="4.94" r="1.21"/><circle cx="2.95" cy="-4.93" r="0.81"/><circle cx="2.74" cy="-2.56" r="0.81"/><circle cx="2.71" cy="2.92" r="0.95"/><circle cx="3.07" cy="4.89" r="0.87"/><circle cx="5.88" cy="-2.94" r="1.03"/><circle cx="5.70" cy="5.33" r="1.10"/></g><g fill="#f0f0f0"><circle cx="1.5" cy="-3" r="1.1"/><circle cx="-2" cy="1.5" r="0.9"/><circle cx="3" cy="2.5" r="0.9"/><circle cx="-3.5" cy="-2.5" r="0.7"/></g></g>
<g transform="translate(304.60,443.70) scale(1)"><path d="M-6.8,-4.5L-3,-6.2L0,-4.8L3.5,-6.6L6.8,-4L5.2,0L7,4.2L3,6.4L0,4.8L-3.5,6.6L-6.8,4L-5,0Z" fill="#bdbdbd"/><g fill="#4a4a4a"><circle cx="-5.79" cy="0.08" r="1.14"/><circle cx="-6.01" cy="5.09" r="0.97"/><circle cx="-2.99" cy="-2.34" r="0.85"/><circle cx="-3.03" cy="-0.18" r="1.25"/><circle cx="-0.45" cy="-0.14" r="1.20"/><circle cx="0.31" cy="2.86" r="0.85"/><circle cx="0.40" cy="4.93" r="0.84"/><circle cx="3.12" cy="-5.25" r="0.81"/><circle cx="2.76" cy="-3.06" r="1.01"/><circle cx="2.34" cy="2.17" r="1.08"/><circle cx="5.15" cy="-5.57" r="0.86"/><circle cx="5.37" cy="-2.80" r="1.19"/><circle cx="5.86" cy="0.31" r="1.16"/><circle cx="5.78" cy="5.29" r="0.93"/></g><g fill="#f0f0f0"><circle cx="1.5" cy="-3" r="1.1"/><circle cx="-2" cy="1.5" r="0.9"/><circle cx="3" cy="2.5" r="0.9"/><circle cx="-3.5" cy="-2.5" r="0.7"/></g></g>
<g transform="translate(311.60,460.60) scale(1)"><path d="M-6.8,-4.5L-3,-6.2L0,-4.8L3.5,-6.6L6.8,-4L5.2,0L7,4.2L3,6.4L0,4.8L-3.5,6.6L-6.8,4L-5,0Z" fill="#bdbdbd"/><g fill="#4a4a4a"><circle cx="-5.28" cy="-5.44" r="1.00"/><circle cx="-5.57" cy="-0.27" r="0.94"/><circle cx="-2.73" cy="-5.09" r="0.94"/><circle cx="-2.31" cy="2.89" r="1.06"/><circle cx="0.11" cy="-3.08" r="1.06"/><circle cx="-0.30" cy="0.18" r="1.08"/><circle cx="0.41" cy="5.58" r="0.94"/><circle cx="3.17" cy="-2.99" r="0.88"/><circle cx="2.87" cy="-0.42" r="1.08"/><circle cx="5.95" cy="-4.99" r="1.07"/><circle cx="5.66" cy="-2.24" r="0.89"/><circle cx="5.53" cy="0.00" r="0.93"/></g><g fill="#f0f0f0"><circle cx="1.5" cy="-3" r="1.1"/><circle cx="-2" cy="1.5" r="0.9"/><circle cx="3" cy="2.5" r="0.9"/><circle cx="-3.5" cy="-2.5" r="0.7"/></g></g>
<g transform="translate(319.30,475.60) scale(1)"><path d="M-6.8,-4.5L-3,-6.2L0,-4.8L3.5,-6.6L6.8,-4L5.2,0L7,4.2L3,6.4L0,4.8L-3.5,6.6L-6.8,4L-5,0Z" fill="#bdbdbd"/><g fill="#4a4a4a"><circle cx="-3.12" cy="-4.96" r="1.23"/><circle cx="-2.71" cy="-2.50" r="1.02"/><circle cx="-2.35" cy="-0.00" r="0.98"/><circle cx="-2.37" cy="2.15" r="1.24"/><circle cx="-2.83" cy="4.89" r="0.89"/><circle cx="0.05" cy="-4.99" r="0.91"/><circle cx="0.14" cy="0.44" r="1.13"/><circle cx="0.20" cy="2.91" r="1.02"/><circle cx="3.06" cy="-0.45" r="1.20"/><circle cx="2.97" cy="2.47" r="1.24"/><circle cx="5.86" cy="-2.52" r="1.06"/><circle cx="5.97" cy="-0.48" r="0.84"/><circle cx="5.50" cy="2.50" r="0.93"/><circle cx="5.59" cy="5.34" r="0.91"/></g><g fill="#f0f0f0"><circle cx="1.5" cy="-3" r="1.1"/><circle cx="-2" cy="1.5" r="0.9"/><circle cx="3" cy="2.5" r="0.9"/><circle cx="-3.5" cy="-2.5" r="0.7"/></g></g>
<g transform="translate(327.00,490.50) scale(0.95)" opacity="0.7"><path d="M-6.8,-4.5L-3,-6.2L0,-4.8L3.5,-6.6L6.8,-4L5.2,0L7,4.2L3,6.4L0,4.8L-3.5,6.6L-6.8,4L-5,0Z" fill="#bdbdbd"/><g fill="#4a4a4a"><circle cx="-5.24" cy="-4.86" r="1.13"/><circle cx="-5.37" cy="-0.38" r="0.90"/><circle cx="-6.04" cy="2.11" r="0.90"/><circle cx="-2.54" cy="5.33" r="1.19"/><circle cx="0.21" cy="-5.15" r="1.19"/><circle cx="-0.18" cy="-2.21" r="0.97"/><circle cx="3.25" cy="-5.59" r="1.08"/><circle cx="3.00" cy="2.20" r="0.89"/><circle cx="2.32" cy="4.78" r="1.19"/><circle cx="5.92" cy="-5.31" r="0.83"/><circle cx="5.38" cy="-2.46" r="0.83"/><circle cx="5.86" cy="0.47" r="0.93"/></g><g fill="#f0f0f0"><circle cx="1.5" cy="-3" r="1.1"/><circle cx="-2" cy="1.5" r="0.9"/><circle cx="3" cy="2.5" r="0.9"/><circle cx="-3.5" cy="-2.5" r="0.7"/></g></g>
</g>
<g id="ph">
<rect x="369.20" y="8.50" width="139.40" height="97.80" fill="none" stroke="#a8a8a8" stroke-width="0.9"/>
<path d="M368.27,105.20 C368.67,101.71 369.83,91.34 370.68,84.28 C371.53,77.21 372.25,68.85 373.36,62.82 C374.48,56.79 375.82,51.56 377.39,48.07 C378.95,44.58 380.96,43.02 382.75,41.90 C384.54,40.78 386.33,41.01 388.11,41.36 C389.90,41.72 392.14,42.26 393.48,44.05 C394.82,45.83 395.27,49.41 396.16,52.09 C397.05,54.77 397.73,58.35 398.84,60.14 C399.96,61.93 401.30,63.04 402.87,62.82 C404.43,62.60 406.44,59.91 408.23,58.80 C410.02,57.68 411.36,57.01 413.59,56.11 C415.83,55.22 419.40,54.33 421.64,53.43 C423.87,52.54 425.22,51.87 427.00,50.75 C428.79,49.63 430.80,46.95 432.37,46.73 C433.93,46.50 435.27,48.07 436.39,49.41 C437.51,50.75 437.96,53.88 439.07,54.77 C440.19,55.67 441.53,55.44 443.10,54.77 C444.66,54.10 446.67,51.87 448.46,50.75 C450.25,49.63 452.04,47.62 453.82,48.07 C455.61,48.52 457.40,52.76 459.19,53.43 C460.98,54.10 462.76,53.66 464.55,52.09 C466.34,50.53 467.87,45.67 469.92,44.05 C471.96,42.42 475.19,44.31 476.82,42.36 C478.45,40.40 478.98,35.53 479.70,32.30 C480.41,29.07 480.89,24.52 481.13,22.96" fill="none" stroke="#70ad47" stroke-width="1.05"/>
<path d="M368.27,105.20 C368.76,101.26 370.15,89.10 371.22,81.59 C372.29,74.08 373.23,65.95 374.70,60.14 C376.18,54.33 378.06,49.41 380.07,46.73 C382.08,44.05 384.54,43.82 386.77,44.05 C389.01,44.27 391.69,45.83 393.48,48.07 C395.27,50.30 395.94,54.77 397.50,57.46 C399.07,60.14 401.08,63.49 402.87,64.16 C404.65,64.83 406.22,62.37 408.23,61.48 C410.24,60.58 412.70,59.47 414.93,58.80 C417.17,58.13 419.18,57.23 421.64,57.46 C424.10,57.68 427.00,59.47 429.69,60.14 C432.37,60.81 435.05,61.93 437.73,61.48 C440.41,61.03 443.10,57.46 445.78,57.46 C448.46,57.46 451.59,61.26 453.82,61.48 C456.06,61.70 456.95,60.36 459.19,58.80 C461.42,57.23 464.89,54.59 467.23,52.09 C469.57,49.59 471.75,45.30 473.23,43.79 C474.71,42.29 475.15,44.75 476.10,43.07 C477.06,41.40 477.90,36.97 478.98,33.74 C480.05,30.50 481.97,25.35 482.57,23.68" fill="none" stroke="#70ad47" stroke-width="1.05"/>
<path d="M368.27,105.20 C368.89,100.81 370.73,86.87 372.02,78.91 C373.32,70.96 374.48,62.37 376.05,57.46 C377.61,52.54 379.40,50.97 381.41,49.41 C383.42,47.85 385.88,47.17 388.11,48.07 C390.35,48.96 392.81,52.32 394.82,54.77 C396.83,57.23 398.40,61.03 400.18,62.82 C401.97,64.61 403.31,65.95 405.55,65.50 C407.78,65.05 410.91,60.58 413.59,60.14 C416.28,59.69 418.96,62.60 421.64,62.82 C424.32,63.04 427.00,62.37 429.69,61.48 C432.37,60.58 435.05,57.46 437.73,57.46 C440.41,57.46 443.10,61.26 445.78,61.48 C448.46,61.70 451.14,59.69 453.82,58.80 C456.51,57.90 459.19,57.68 461.87,56.11 C464.55,54.55 467.46,51.64 469.92,49.41 C472.37,47.17 474.87,46.28 476.62,42.70 C478.37,39.13 479.78,30.44 480.41,27.99" fill="none" stroke="#70ad47" stroke-width="1.05"/>
<path d="M368.27,105.20 C368.89,101.26 370.73,89.10 372.02,81.59 C373.32,74.08 374.48,65.05 376.05,60.14 C377.61,55.22 379.40,53.66 381.41,52.09 C383.42,50.53 386.10,50.08 388.11,50.75 C390.13,51.42 391.91,53.66 393.48,56.11 C395.04,58.57 396.38,63.27 397.50,65.50 C398.62,67.74 398.84,69.08 400.18,69.52 C401.52,69.97 403.76,68.85 405.55,68.18 C407.34,67.51 408.68,66.40 410.91,65.50 C413.15,64.61 416.28,64.16 418.96,62.82 C421.64,61.48 424.77,57.90 427.00,57.46 C429.24,57.01 430.58,59.24 432.37,60.14 C434.16,61.03 435.50,61.93 437.73,62.82 C439.97,63.71 443.54,65.73 445.78,65.50 C448.01,65.28 448.91,62.15 451.14,61.48 C453.38,60.81 456.95,60.58 459.19,61.48 C461.42,62.37 462.76,65.73 464.55,66.84 C466.34,67.96 468.23,70.35 469.92,68.18 C471.60,66.02 473.28,56.96 474.67,53.85 C476.06,50.74 477.30,51.70 478.26,49.54 C479.22,47.39 479.70,44.15 480.41,40.92 C481.13,37.69 482.21,31.94 482.57,30.14" fill="none" stroke="#ffc000" stroke-width="1.35" stroke-dasharray="0.9 0.6"/>
<path d="M368.27,105.20 C369.03,101.04 371.31,87.54 372.83,80.25 C374.35,72.97 375.73,65.73 377.39,61.48 C379.04,57.23 380.74,56.11 382.75,54.77 C384.76,53.43 387.44,52.76 389.46,53.43 C391.47,54.10 393.26,56.34 394.82,58.80 C396.38,61.26 397.50,66.17 398.84,68.18 C400.18,70.20 401.30,70.87 402.87,70.87 C404.43,70.87 405.99,69.08 408.23,68.18 C410.46,67.29 413.59,66.17 416.28,65.50 C418.96,64.83 421.64,64.38 424.32,64.16 C427.00,63.94 429.69,63.71 432.37,64.16 C435.05,64.61 437.73,67.07 440.41,66.84 C443.10,66.62 445.78,63.27 448.46,62.82 C451.14,62.37 454.27,63.27 456.51,64.16 C458.74,65.05 460.08,67.29 461.87,68.18 C463.66,69.08 465.45,70.42 467.23,69.52 C469.02,68.63 471.36,64.95 472.60,62.82 C473.84,60.69 473.60,59.42 474.67,56.72 C475.73,54.03 477.90,50.50 478.98,46.67 C480.05,42.84 480.77,35.89 481.13,33.74" fill="none" stroke="#ffc000" stroke-width="1.35" stroke-dasharray="0.9 0.6"/>
<path d="M368.27,105.20 C368.89,103.05 370.73,96.26 372.02,92.32 C373.32,88.39 374.70,84.19 376.05,81.59 C377.39,79.00 378.95,77.44 380.07,76.77 C381.19,76.10 381.86,76.32 382.75,77.57 C383.64,78.82 384.32,82.04 385.43,84.28 C386.55,86.51 388.34,89.42 389.46,90.98 C390.57,92.55 391.24,93.66 392.14,93.66 C393.03,93.66 393.48,91.87 394.82,90.98 C396.16,90.09 398.40,88.97 400.18,88.30 C401.97,87.63 403.76,86.73 405.55,86.96 C407.34,87.18 409.12,89.86 410.91,89.64 C412.70,89.42 414.49,85.84 416.28,85.62 C418.06,85.39 419.40,88.30 421.64,88.30 C423.87,88.30 427.00,85.84 429.69,85.62 C432.37,85.39 435.05,86.96 437.73,86.96 C440.41,86.96 443.10,85.62 445.78,85.62 C448.46,85.62 451.14,86.96 453.82,86.96 C456.51,86.96 459.19,85.71 461.87,85.62 C464.55,85.53 467.23,86.42 469.92,86.42 C472.60,86.42 475.95,86.64 477.96,85.62 C479.97,84.59 480.64,83.16 481.98,80.25 C483.33,77.35 484.67,72.88 486.01,68.18 C487.35,63.49 489.36,54.77 490.03,52.09" fill="none" stroke="#5b9bd5" stroke-width="1.2" stroke-dasharray="2.1 1.0 0.8 1.0"/>
<path d="M368.77,105.92 C369.15,104.90 370.30,101.20 371.07,99.79 C371.83,98.39 372.60,97.37 373.36,97.49 C374.13,97.62 374.90,99.79 375.66,100.56 C376.43,101.33 376.94,102.09 377.96,102.09 C378.98,102.09 380.13,101.40 381.79,100.56 C383.45,99.72 386.39,96.91 387.92,97.03 C389.46,97.16 390.09,100.48 390.99,101.33 C391.88,102.17 392.39,102.35 393.29,102.09 C394.18,101.84 395.33,100.56 396.35,99.79 C397.37,99.03 398.40,97.49 399.42,97.49 C400.44,97.49 401.46,99.15 402.48,99.79 C403.50,100.43 404.53,101.45 405.55,101.33 C406.57,101.20 407.46,99.74 408.61,99.03 C409.76,98.31 411.30,96.91 412.44,97.03 C413.59,97.16 414.49,98.95 415.51,99.79 C416.53,100.64 417.55,102.09 418.57,102.09 C419.60,102.09 420.49,100.69 421.64,99.79 C422.79,98.90 424.32,96.73 425.47,96.73 C426.62,96.73 427.51,98.90 428.54,99.79 C429.56,100.69 430.58,102.22 431.60,102.09 C432.62,101.96 433.64,99.87 434.67,99.03 C435.69,98.18 436.71,96.78 437.73,97.03 C438.75,97.29 439.65,99.84 440.80,100.56 C441.95,101.27 443.43,101.40 444.63,101.33 C445.83,101.25 446.47,100.48 448.00,100.10 C449.53,99.72 451.96,98.98 453.82,99.03 C455.69,99.07 457.40,100.59 459.19,100.37 C460.98,100.14 462.99,97.46 464.55,97.69 C466.12,97.91 467.01,101.26 468.57,101.71 C470.14,102.16 471.93,100.81 473.94,100.37 C475.95,99.92 478.63,99.12 480.64,99.03 C482.66,98.94 484.22,100.28 486.01,99.83 C487.80,99.38 489.81,97.37 491.37,96.34 C492.94,95.32 494.28,94.33 495.39,93.66 C496.51,92.99 497.63,92.55 498.08,92.32" fill="none" stroke="#ed7d31" stroke-width="1.1" stroke-dasharray="2.8 1.3"/>
<path d="M369.20,8.50V106.30H508.60" fill="none" stroke="#7a7a7a" stroke-width="0.9"/>
<path d="M367.40,106.30H369.20M367.40,102.39H369.20M367.40,98.48H369.20M367.40,94.56H369.20M367.40,90.65H369.20M367.40,86.74H369.20M367.40,82.83H369.20M367.40,78.92H369.20M367.40,75.00H369.20M367.40,71.09H369.20M367.40,67.18H369.20M367.40,63.27H369.20M367.40,59.36H369.20M367.40,55.44H369.20M367.40,51.53H369.20M367.40,47.62H369.20M367.40,43.71H369.20M367.40,39.80H369.20M367.40,35.88H369.20M367.40,31.97H369.20M367.40,28.06H369.20M367.40,24.15H369.20M367.40,20.24H369.20M367.40,16.32H369.20M367.40,12.41H369.20M367.40,8.50H369.20M369.20,106.30V108.10M376.17,106.30V108.10M383.14,106.30V108.10M390.11,106.30V108.10M397.08,106.30V108.10M404.05,106.30V108.10M411.02,106.30V108.10M417.99,106.30V108.10M424.96,106.30V108.10M431.93,106.30V108.10M438.90,106.30V108.10M445.87,106.30V108.10M452.84,106.30V108.10M459.81,106.30V108.10M466.78,106.30V108.10M473.75,106.30V108.10M480.72,106.30V108.10M487.69,106.30V108.10M494.66,106.30V108.10M501.63,106.30V108.10M508.60,106.30V108.10" stroke="#7a7a7a" stroke-width="0.6"/>
<text x="363.42" y="108.85" text-anchor="end" class="t">0</text>
<text x="363.42" y="89.29" text-anchor="end" class="t">0.5</text>
<text x="363.42" y="69.73" text-anchor="end" class="t">1</text>
<text x="363.42" y="50.17" text-anchor="end" class="t">1.5</text>
<text x="363.42" y="30.61" text-anchor="end" class="t">2</text>
<text x="363.42" y="11.05" text-anchor="end" class="t">2.5</text>
<text x="369.41" y="117.50" text-anchor="middle" class="t">0</text>
<text x="404.26" y="117.50" text-anchor="middle" class="t">0.2</text>
<text x="439.11" y="117.50" text-anchor="middle" class="t">0.4</text>
<text x="473.96" y="117.50" text-anchor="middle" class="t">0.6</text>
<text x="508.81" y="117.50" text-anchor="middle" class="t">0.8</text>
<text transform="translate(351.20,59.40) rotate(-90)" text-anchor="middle" class="lab">Stress (MPa)</text>
<text transform="translate(439.10,125.20) scale(0.96,1)" text-anchor="middle" class="lab">Strain</text>
<text x="440.20" y="137.90" text-anchor="middle" class="capT">(h)</text>
<line x1="373.80" y1="12.60" x2="379.00" y2="12.60" stroke="#ed7d31" stroke-width="1.2"/>
<text x="381.20" y="15.00" class="lg">7.0 ± 0.1%</text>
<line x1="373.80" y1="20.60" x2="379.00" y2="20.60" stroke="#5b9bd5" stroke-width="1.2" stroke-dasharray="2.4 1.0 0.8 1.0"/>
<text x="381.20" y="23.00" class="lg">11.8 ± 0.1%</text>
<line x1="373.80" y1="28.40" x2="379.00" y2="28.40" stroke="#ffc000" stroke-width="1.2" stroke-dasharray="0.9 0.6"/>
<text x="381.20" y="30.80" class="lg">17.7 ± 0.0%</text>
<line x1="373.80" y1="36.10" x2="380.50" y2="36.10" stroke="#70ad47" stroke-width="1.2"/>
<text x="381.20" y="38.50" class="lg">28.4 ± 0.4%</text>
<g transform="translate(492.00,17.80) scale(1.0)"><path d="M0,-6.6L5.7,3.3L-5.7,3.3ZM0,6.6L-5.7,-3.3L5.7,-3.3Z" fill="#acacac" stroke="#666" stroke-width="0.8" stroke-linejoin="round"/><path d="M2.8,-5.8L-4.6,4.4" stroke="#444" stroke-width="1.0"/></g>
<g transform="translate(492.20,38.70) scale(1.0)"><path d="M0,-6.6L5.7,3.3L-5.7,3.3ZM0,6.6L-5.7,-3.3L5.7,-3.3Z" fill="#acacac" stroke="#666" stroke-width="0.8" stroke-linejoin="round"/><path d="M2.8,-5.8L-4.6,4.4" stroke="#444" stroke-width="1.0"/></g>
<g transform="translate(499.20,62.80) scale(1.0)"><path d="M0,-6.6L5.7,3.3L-5.7,3.3ZM0,6.6L-5.7,-3.3L5.7,-3.3Z" fill="#acacac" stroke="#666" stroke-width="0.8" stroke-linejoin="round"/><path d="M2.8,-5.8L-4.6,4.4" stroke="#444" stroke-width="1.0"/></g>
<g transform="translate(494.50,83.20) scale(1.0)"><path d="M0,-6.6L5.7,3.3L-5.7,3.3ZM0,6.6L-5.7,-3.3L5.7,-3.3Z" fill="#acacac" stroke="#666" stroke-width="0.8" stroke-linejoin="round"/><path d="M2.8,-5.8L-4.6,4.4" stroke="#444" stroke-width="1.0"/></g>
</g>
<g id="pi">
<rect x="370.30" y="142.80" width="139.40" height="98.60" fill="none" stroke="#a8a8a8" stroke-width="0.9"/>
<path d="M370.27,239.85 C370.67,237.49 371.83,230.24 372.68,225.64 C373.53,221.04 374.25,216.25 375.36,212.23 C376.48,208.21 377.82,204.63 379.39,201.50 C380.95,198.37 382.74,195.33 384.75,193.46 C386.76,191.58 389.44,190.77 391.46,190.24 C393.47,189.70 395.48,189.03 396.82,190.24 C398.16,191.44 398.70,194.80 399.50,197.48 C400.31,200.16 400.98,206.11 401.65,206.33 C402.32,206.55 402.77,201.64 403.52,198.82 C404.28,196.00 405.09,191.44 406.21,189.43 C407.32,187.42 408.89,186.08 410.23,186.75 C411.57,187.42 413.14,190.77 414.25,193.46 C415.37,196.14 416.04,203.29 416.93,202.84 C417.83,202.40 418.72,193.46 419.62,190.77 C420.51,188.09 421.40,186.30 422.30,186.75 C423.19,187.20 424.09,190.55 424.98,193.46 C425.87,196.36 426.99,204.18 427.66,204.18 C428.33,204.18 428.11,196.14 429.00,193.46 C429.90,190.77 431.69,187.64 433.03,188.09 C434.37,188.54 435.71,195.69 437.05,196.14 C438.39,196.58 439.96,192.34 441.07,190.77 C442.19,189.21 442.86,185.41 443.75,186.75 C444.65,188.09 445.54,198.15 446.44,198.82 C447.33,199.49 448.15,192.91 449.12,190.77 C450.09,188.63 450.76,187.73 452.24,185.98 C453.72,184.22 456.07,182.15 457.99,180.23 C459.90,178.31 461.94,176.64 463.74,174.48 C465.53,172.33 467.33,169.93 468.76,167.30 C470.20,164.66 471.40,161.19 472.36,158.68 C473.31,156.16 474.15,153.29 474.51,152.21" fill="none" stroke="#70ad47" stroke-width="1.05"/>
<path d="M370.27,239.85 C370.76,237.26 372.15,228.90 373.22,224.30 C374.29,219.69 375.23,216.03 376.70,212.23 C378.18,208.43 380.06,204.09 382.07,201.50 C384.08,198.91 386.32,197.79 388.77,196.67 C391.23,195.56 393.24,195.42 396.82,194.80 C400.40,194.17 405.76,193.37 410.23,192.92 C414.70,192.47 419.62,192.47 423.64,192.11 C427.66,191.76 431.52,191.44 434.37,190.77 C437.22,190.11 438.73,189.17 440.75,188.13 C442.77,187.09 444.58,185.86 446.49,184.54 C448.41,183.22 450.33,181.91 452.24,180.23 C454.16,178.55 456.31,176.40 457.99,174.48 C459.66,172.57 460.98,170.89 462.30,168.74 C463.62,166.58 464.98,163.83 465.89,161.55 C466.80,159.28 467.45,156.16 467.76,155.09" fill="none" stroke="#70ad47" stroke-width="1.05"/>
<path d="M370.27,239.85 C370.89,237.49 372.73,229.80 374.02,225.64 C375.32,221.48 376.48,218.26 378.05,214.91 C379.61,211.56 381.17,207.85 383.41,205.52 C385.64,203.20 388.33,202.08 391.46,200.97 C394.58,199.85 398.16,199.18 402.18,198.82 C406.21,198.46 411.12,199.04 415.59,198.82 C420.06,198.60 425.87,197.70 429.00,197.48 C432.13,197.26 431.93,197.48 434.37,197.48 C436.80,197.48 440.64,198.19 443.62,197.47 C446.60,196.75 449.61,195.08 452.24,193.16 C454.88,191.25 457.03,188.61 459.43,185.98 C461.82,183.34 464.57,180.23 466.61,177.36 C468.64,174.48 470.20,171.85 471.64,168.74 C473.07,165.62 474.15,161.67 475.23,158.68 C476.31,155.68 477.62,152.09 478.10,150.78" fill="none" stroke="#ffc000" stroke-width="1.35" stroke-dasharray="0.9 0.6"/>
<path d="M370.27,239.85 C371.03,237.71 373.31,230.91 374.83,226.98 C376.35,223.05 377.51,219.61 379.39,216.25 C381.26,212.90 383.63,208.97 386.09,206.87 C388.55,204.77 391.01,204.45 394.14,203.65 C397.27,202.84 400.84,202.49 404.87,202.04 C408.89,201.59 413.81,201.28 418.28,200.97 C422.75,200.65 427.66,200.52 431.69,200.16 C435.71,199.80 439.28,199.71 442.41,198.82 C445.54,197.93 447.78,196.58 450.46,194.80 C453.14,193.01 455.82,190.77 458.51,188.09 C461.19,185.41 465.21,180.27 466.55,178.70" fill="none" stroke="#ffc000" stroke-width="1.35" stroke-dasharray="0.9 0.6"/>
<path d="M370.27,239.85 C370.89,238.38 372.73,233.37 374.02,231.00 C375.32,228.63 376.48,227.20 378.05,225.64 C379.61,224.08 381.62,222.51 383.41,221.62 C385.20,220.72 386.99,220.05 388.77,220.28 C390.56,220.50 392.35,222.73 394.14,222.96 C395.93,223.18 397.27,221.62 399.50,221.62 C401.74,221.62 404.87,222.96 407.55,222.96 C410.23,222.96 412.91,221.71 415.59,221.62 C418.28,221.53 420.51,222.42 423.64,222.42 C426.77,222.42 430.79,221.97 434.37,221.62 C437.94,221.26 441.52,220.95 445.10,220.28 C448.67,219.61 452.25,218.49 455.82,217.59 C459.40,216.70 463.42,216.25 466.55,214.91 C469.68,213.57 472.36,211.34 474.60,209.55 C476.83,207.76 478.40,206.20 479.96,204.18 C481.53,202.17 482.87,199.49 483.98,197.48 C485.10,195.47 486.22,193.01 486.67,192.11" fill="none" stroke="#5b9bd5" stroke-width="1.2" stroke-dasharray="2.1 1.0 0.8 1.0"/>
<path d="M370.27,239.85 C371.12,238.16 373.62,232.26 375.36,229.66 C377.11,227.07 378.94,225.42 380.73,224.30 C382.52,223.18 383.86,222.73 386.09,222.96 C388.33,223.18 391.46,225.42 394.14,225.64 C396.82,225.86 399.05,224.75 402.18,224.30 C405.31,223.85 409.34,223.18 412.91,222.96 C416.49,222.73 419.62,223.18 423.64,222.96 C427.66,222.73 432.58,222.29 437.05,221.62 C441.52,220.95 445.99,219.83 450.46,218.93 C454.93,218.04 459.85,217.37 463.87,216.25 C467.89,215.14 471.47,213.79 474.60,212.23 C477.73,210.67 480.41,209.10 482.64,206.87 C484.88,204.63 487.11,200.16 488.01,198.82" fill="none" stroke="#5b9bd5" stroke-width="1.2" stroke-dasharray="2.1 1.0 0.8 1.0"/>
<path d="M370.27,239.85 C370.89,239.27 372.73,237.40 374.02,236.37 C375.32,235.34 376.48,234.36 378.05,233.69 C379.61,233.02 381.62,232.43 383.41,232.34 C385.20,232.26 386.99,232.57 388.77,233.15 C390.56,233.73 392.80,235.74 394.14,235.83 C395.48,235.92 395.48,233.60 396.82,233.69 C398.16,233.78 400.40,236.14 402.18,236.37 C403.97,236.59 405.76,234.94 407.55,235.03 C409.34,235.12 411.12,236.90 412.91,236.90 C414.70,236.90 416.04,235.56 418.28,235.03 C420.51,234.49 423.19,234.00 426.32,233.69 C429.45,233.37 433.47,233.15 437.05,233.15 C440.63,233.15 444.20,233.82 447.78,233.69 C451.35,233.55 454.93,233.02 458.51,232.34 C462.08,231.67 465.66,230.78 469.23,229.66 C472.81,228.55 476.83,226.76 479.96,225.64 C483.09,224.52 485.77,223.85 488.01,222.96 C490.24,222.06 491.81,221.62 493.37,220.28 C494.94,218.93 496.28,216.92 497.39,214.91 C498.51,212.90 499.32,209.77 500.08,208.21 C500.84,206.64 501.64,205.97 501.95,205.52" fill="none" stroke="#ed7d31" stroke-width="1.2" stroke-dasharray="2.8 1.3"/>
<path d="M370.30,142.80V241.40H509.70" fill="none" stroke="#7a7a7a" stroke-width="0.9"/>
<path d="M368.50,241.40H370.30M368.50,238.11H370.30M368.50,234.83H370.30M368.50,231.54H370.30M368.50,228.25H370.30M368.50,224.97H370.30M368.50,221.68H370.30M368.50,218.39H370.30M368.50,215.11H370.30M368.50,211.82H370.30M368.50,208.53H370.30M368.50,205.25H370.30M368.50,201.96H370.30M368.50,198.67H370.30M368.50,195.39H370.30M368.50,192.10H370.30M368.50,188.81H370.30M368.50,185.53H370.30M368.50,182.24H370.30M368.50,178.95H370.30M368.50,175.67H370.30M368.50,172.38H370.30M368.50,169.09H370.30M368.50,165.81H370.30M368.50,162.52H370.30M368.50,159.23H370.30M368.50,155.95H370.30M368.50,152.66H370.30M368.50,149.37H370.30M368.50,146.09H370.30M368.50,142.80H370.30M370.30,241.40V243.20M377.27,241.40V243.20M384.24,241.40V243.20M391.21,241.40V243.20M398.18,241.40V243.20M405.15,241.40V243.20M412.12,241.40V243.20M419.09,241.40V243.20M426.06,241.40V243.20M433.03,241.40V243.20M440.00,241.40V243.20M446.97,241.40V243.20M453.94,241.40V243.20M460.91,241.40V243.20M467.88,241.40V243.20M474.85,241.40V243.20M481.82,241.40V243.20M488.79,241.40V243.20M495.76,241.40V243.20M502.73,241.40V243.20M509.70,241.40V243.20" stroke="#7a7a7a" stroke-width="0.6"/>
<text x="364.52" y="243.95" text-anchor="end" class="t">0</text>
<text x="364.52" y="227.52" text-anchor="end" class="t">1</text>
<text x="364.52" y="211.08" text-anchor="end" class="t">2</text>
<text x="364.52" y="194.65" text-anchor="end" class="t">3</text>
<text x="364.52" y="178.22" text-anchor="end" class="t">4</text>
<text x="364.52" y="161.78" text-anchor="end" class="t">5</text>
<text x="364.52" y="145.35" text-anchor="end" class="t">6</text>
<text x="370.51" y="252.60" text-anchor="middle" class="t">0</text>
<text x="405.36" y="252.60" text-anchor="middle" class="t">0.2</text>
<text x="440.21" y="252.60" text-anchor="middle" class="t">0.4</text>
<text x="475.06" y="252.60" text-anchor="middle" class="t">0.6</text>
<text x="509.91" y="252.60" text-anchor="middle" class="t">0.8</text>
<text transform="translate(354.80,194.80) rotate(-90)" text-anchor="middle" class="lab">Stress (MPa)</text>
<text transform="translate(440.20,260.00) scale(0.96,1)" text-anchor="middle" class="lab">Strain</text>
<text x="440.20" y="269.30" text-anchor="middle" class="capT">(i)</text>
<line x1="376.20" y1="149.50" x2="381.00" y2="149.50" stroke="#ed7d31" stroke-width="1.2"/>
<text x="383.50" y="151.90" class="lg">11.1 ± 0.1%</text>
<line x1="376.20" y1="157.10" x2="381.00" y2="157.10" stroke="#5b9bd5" stroke-width="1.2" stroke-dasharray="2.4 1.0 0.8 1.0"/>
<text x="383.50" y="159.50" class="lg">16.3 ± 0.5%</text>
<line x1="376.20" y1="164.50" x2="381.00" y2="164.50" stroke="#ffc000" stroke-width="1.2" stroke-dasharray="0.9 0.6"/>
<text x="383.50" y="166.90" class="lg">22.5 ± 0.1%</text>
<line x1="376.20" y1="172.10" x2="382.50" y2="172.10" stroke="#70ad47" stroke-width="1.2"/>
<text x="383.50" y="174.50" class="lg">25.9 ± 0.0%</text>
<g transform="translate(456.70,155.00) scale(1.0)"><path d="M-3,-2L-6,-4M-3,2L-6,4M3,-2L6,-4M3,2L6,4M0,-4L0.5,-6.2M-1,4L-1,6.2" stroke="#4a4a4a" stroke-width="1.1" stroke-linecap="round"/><ellipse rx="4" ry="4.6" fill="#8a8a8a"/><g fill="#505050"><circle cx="-1.7" cy="-1.5" r="1"/><circle cx="1.6" cy="1.2" r="1"/><circle cx="-1.2" cy="2.4" r="0.8"/></g><g fill="#c8c8c8"><circle cx="1.4" cy="-2" r="0.8"/><circle cx="-0.5" cy="0.4" r="0.7"/></g></g>
<g transform="translate(480.80,175.60) scale(1.0)"><path d="M-3,-2L-6,-4M-3,2L-6,4M3,-2L6,-4M3,2L6,4M0,-4L0.5,-6.2M-1,4L-1,6.2" stroke="#4a4a4a" stroke-width="1.1" stroke-linecap="round"/><ellipse rx="4" ry="4.6" fill="#8a8a8a"/><g fill="#505050"><circle cx="-1.7" cy="-1.5" r="1"/><circle cx="1.6" cy="1.2" r="1"/><circle cx="-1.2" cy="2.4" r="0.8"/></g><g fill="#c8c8c8"><circle cx="1.4" cy="-2" r="0.8"/><circle cx="-0.5" cy="0.4" r="0.7"/></g></g>
<g transform="translate(496.10,196.70) scale(1.0)"><path d="M-3,-2L-6,-4M-3,2L-6,4M3,-2L6,-4M3,2L6,4M0,-4L0.5,-6.2M-1,4L-1,6.2" stroke="#4a4a4a" stroke-width="1.1" stroke-linecap="round"/><ellipse rx="4" ry="4.6" fill="#8a8a8a"/><g fill="#505050"><circle cx="-1.7" cy="-1.5" r="1"/><circle cx="1.6" cy="1.2" r="1"/><circle cx="-1.2" cy="2.4" r="0.8"/></g><g fill="#c8c8c8"><circle cx="1.4" cy="-2" r="0.8"/><circle cx="-0.5" cy="0.4" r="0.7"/></g></g>
<g transform="translate(499.50,231.50) scale(0.85)" opacity="0.35"><path d="M-3,-2L-6,-4M-3,2L-6,4M3,-2L6,-4M3,2L6,4M0,-4L0.5,-6.2M-1,4L-1,6.2" stroke="#4a4a4a" stroke-width="1.1" stroke-linecap="round"/><ellipse rx="4" ry="4.6" fill="#8a8a8a"/><g fill="#505050"><circle cx="-1.7" cy="-1.5" r="1"/><circle cx="1.6" cy="1.2" r="1"/><circle cx="-1.2" cy="2.4" r="0.8"/></g><g fill="#c8c8c8"><circle cx="1.4" cy="-2" r="0.8"/><circle cx="-0.5" cy="0.4" r="0.7"/></g></g>
</g>
<g id="pj">
<rect x="370.30" y="274.00" width="139.70" height="98.40" fill="none" stroke="#a8a8a8" stroke-width="0.9"/>
<path d="M370.67,369.06 C371.01,367.39 371.90,362.47 372.68,359.00 C373.46,355.54 374.25,351.40 375.36,348.28 C376.48,345.15 377.60,342.58 379.39,340.23 C381.17,337.88 383.19,336.10 386.09,334.20 C389.00,332.30 392.80,330.28 396.82,328.83 C400.84,327.38 405.76,326.71 410.23,325.48 C414.70,324.25 418.68,323.24 423.64,321.46 C428.60,319.67 436.43,316.38 440.00,314.75 C443.57,313.12 443.02,313.62 445.06,311.67 C447.10,309.72 450.33,306.40 452.24,303.05 C454.16,299.69 455.55,295.38 456.55,291.55 C457.56,287.72 457.99,281.97 458.28,280.06" fill="none" stroke="#70ad47" stroke-width="1.1"/>
<path d="M370.67,369.06 C371.03,367.39 371.99,362.42 372.82,359.00 C373.64,355.58 374.49,351.61 375.63,348.54 C376.77,345.48 377.87,342.96 379.66,340.63 C381.44,338.31 383.45,336.48 386.36,334.60 C389.27,332.72 393.07,330.80 397.09,329.37 C401.11,327.94 406.03,327.22 410.50,326.02 C414.97,324.81 418.99,323.83 423.91,322.13 C428.83,320.43 436.00,317.45 440.00,315.82 C444.00,314.20 445.41,314.28 447.93,312.39 C450.45,310.49 453.20,307.48 455.11,304.48 C457.03,301.49 458.42,297.78 459.43,294.43 C460.43,291.07 460.86,286.04 461.15,284.37" fill="none" stroke="#70ad47" stroke-width="1.0"/>
<path d="M370.67,369.06 C371.12,367.39 372.35,362.02 373.35,359.00 C374.36,355.99 375.03,353.08 376.70,350.96 C378.38,348.83 381.17,347.61 383.41,346.26 C385.64,344.92 386.76,344.03 390.11,342.91 C393.47,341.79 399.05,340.45 403.52,339.56 C407.99,338.67 412.46,338.33 416.93,337.55 C421.40,336.77 426.50,335.76 430.34,334.87 C434.19,333.97 437.09,332.97 440.00,332.18 C442.91,331.40 445.14,331.17 447.78,330.16 C450.42,329.15 453.81,327.70 455.82,326.14 C457.84,324.57 458.89,324.14 459.85,320.77 C460.81,317.40 461.05,310.67 461.58,305.92 C462.11,301.17 462.78,294.55 463.02,292.27" fill="none" stroke="#ffc000" stroke-width="1.8" stroke-dasharray="0.9 0.6"/>
<path d="M370.67,369.06 C371.12,367.83 372.12,363.81 373.35,361.69 C374.58,359.56 375.92,357.66 378.05,356.32 C380.17,354.98 382.96,354.31 386.09,353.64 C389.22,352.97 392.80,352.63 396.82,352.30 C400.84,351.96 405.76,351.81 410.23,351.63 C414.70,351.45 418.68,351.45 423.64,351.23 C428.60,351.00 435.53,350.80 440.00,350.29 C444.47,349.77 447.38,348.80 450.46,348.13 C453.54,347.46 456.53,348.50 458.51,346.25 C460.48,344.01 461.19,338.26 462.30,334.66 C463.41,331.05 464.33,328.43 465.17,324.60 C466.01,320.77 466.97,313.82 467.33,311.67" fill="none" stroke="#5b9bd5" stroke-width="1.1" stroke-dasharray="2.1 1.0 0.8 1.0"/>
<path d="M370.67,369.06 C371.14,367.90 372.21,364.12 373.49,362.09 C374.76,360.05 376.17,358.18 378.31,356.86 C380.46,355.54 383.23,354.85 386.36,354.18 C389.49,353.51 393.07,353.17 397.09,352.84 C401.11,352.50 406.03,352.34 410.50,352.16 C414.97,351.99 418.99,351.99 423.91,351.76 C428.83,351.54 435.13,351.25 440.00,350.82 C444.87,350.40 449.61,349.83 453.14,349.20 C456.67,348.58 459.06,348.76 461.19,347.06 C463.31,345.35 464.51,341.75 465.89,338.97 C467.27,336.18 468.52,333.10 469.48,330.34 C470.44,327.59 471.28,323.76 471.64,322.44" fill="none" stroke="#5b9bd5" stroke-width="1.0" stroke-dasharray="2.1 1.0 0.8 1.0"/>
<path d="M370.67,369.06 C371.23,368.28 372.35,365.71 374.02,364.37 C375.70,363.03 378.05,361.91 380.73,361.02 C383.41,360.12 386.32,359.45 390.11,359.00 C393.91,358.56 399.05,358.56 403.52,358.33 C407.99,358.11 412.46,357.82 416.93,357.66 C421.40,357.51 426.50,357.51 430.34,357.39 C434.19,357.28 436.20,357.51 440.00,356.99 C443.80,356.48 449.61,355.06 453.14,354.30 C456.67,353.54 458.73,353.54 461.19,352.42 C463.65,351.30 466.33,349.74 467.89,347.59 C469.46,345.45 469.81,342.23 470.57,339.55 C471.33,336.87 472.14,332.84 472.45,331.50" fill="none" stroke="#ed7d31" stroke-width="1.2" stroke-dasharray="2.8 1.3"/>
<path d="M370.67,369.06 C371.27,368.37 372.57,366.13 374.29,364.90 C376.01,363.67 378.31,362.54 381.00,361.69 C383.68,360.84 386.58,360.23 390.38,359.81 C394.18,359.38 399.32,359.34 403.79,359.14 C408.26,358.94 412.73,358.76 417.20,358.60 C421.67,358.45 426.81,358.33 430.61,358.20 C434.41,358.07 435.80,358.00 440.00,357.80 C444.20,357.59 451.85,357.56 455.82,356.98 C459.80,356.40 461.63,355.42 463.87,354.30 C466.10,353.18 467.89,352.29 469.23,350.28 C470.57,348.26 471.11,344.91 471.92,342.23 C472.72,339.55 473.70,335.52 474.06,334.18" fill="none" stroke="#ed7d31" stroke-width="1.2" stroke-dasharray="2.8 1.3"/>
<path d="M370.67,369.06 C371.68,368.84 373.46,368.17 376.70,367.72 C379.95,367.27 384.53,366.71 390.11,366.38 C395.70,366.04 403.52,365.93 410.23,365.71 C416.93,365.49 425.38,365.19 430.34,365.04 C435.31,364.88 434.86,365.22 440.00,364.77 C445.14,364.32 456.32,363.20 461.19,362.34 C466.06,361.49 467.00,361.00 469.23,359.66 C471.47,358.32 473.26,356.31 474.60,354.30 C475.94,352.29 476.48,349.61 477.28,347.59 C478.08,345.58 479.07,343.12 479.43,342.23" fill="none" stroke="#ff0000" stroke-width="1.3" stroke-dasharray="2.4 0.9 0.7 0.9 0.7 0.9"/>
<path d="M370.30,274.00V372.40H510.00" fill="none" stroke="#7a7a7a" stroke-width="0.9"/>
<path d="M368.50,372.40H370.30M368.50,368.46H370.30M368.50,364.53H370.30M368.50,360.59H370.30M368.50,356.66H370.30M368.50,352.72H370.30M368.50,348.78H370.30M368.50,344.85H370.30M368.50,340.91H370.30M368.50,336.98H370.30M368.50,333.04H370.30M368.50,329.10H370.30M368.50,325.17H370.30M368.50,321.23H370.30M368.50,317.30H370.30M368.50,313.36H370.30M368.50,309.42H370.30M368.50,305.49H370.30M368.50,301.55H370.30M368.50,297.62H370.30M368.50,293.68H370.30M368.50,289.74H370.30M368.50,285.81H370.30M368.50,281.87H370.30M368.50,277.94H370.30M368.50,274.00H370.30M370.30,372.40V374.20M375.89,372.40V374.20M381.48,372.40V374.20M387.06,372.40V374.20M392.65,372.40V374.20M398.24,372.40V374.20M403.83,372.40V374.20M409.42,372.40V374.20M415.00,372.40V374.20M420.59,372.40V374.20M426.18,372.40V374.20M431.77,372.40V374.20M437.36,372.40V374.20M442.94,372.40V374.20M448.53,372.40V374.20M454.12,372.40V374.20M459.71,372.40V374.20M465.30,372.40V374.20M470.88,372.40V374.20M476.47,372.40V374.20M482.06,372.40V374.20M487.65,372.40V374.20M493.24,372.40V374.20M498.82,372.40V374.20M504.41,372.40V374.20M510.00,372.40V374.20" stroke="#7a7a7a" stroke-width="0.6"/>
<text x="364.52" y="374.95" text-anchor="end" class="t">0</text>
<text x="364.52" y="355.27" text-anchor="end" class="t">2</text>
<text x="364.52" y="335.59" text-anchor="end" class="t">4</text>
<text x="364.52" y="315.91" text-anchor="end" class="t">6</text>
<text x="364.52" y="296.23" text-anchor="end" class="t">8</text>
<text x="364.52" y="276.55" text-anchor="end" class="t">10</text>
<text x="370.51" y="383.60" text-anchor="middle" class="t">0</text>
<text x="398.45" y="383.60" text-anchor="middle" class="t">0.2</text>
<text x="426.39" y="383.60" text-anchor="middle" class="t">0.4</text>
<text x="454.33" y="383.60" text-anchor="middle" class="t">0.6</text>
<text x="482.27" y="383.60" text-anchor="middle" class="t">0.8</text>
<text x="510.21" y="383.60" text-anchor="middle" class="t">1</text>
<text transform="translate(355.10,322.70) rotate(-90)" text-anchor="middle" class="lab">Stress (MPa)</text>
<text transform="translate(440.20,391.50) scale(0.96,1)" text-anchor="middle" class="lab">Strain</text>
<text x="440.20" y="408.90" text-anchor="middle" class="capT">(j)</text>
<line x1="376.00" y1="279.20" x2="381.00" y2="279.20" stroke="#ff0000" stroke-width="1.2" stroke-dasharray="3.2 0.9 0.8 0.9"/>
<text x="383.20" y="281.60" class="lg">10.8 ± 0.2%</text>
<line x1="376.00" y1="286.50" x2="381.00" y2="286.50" stroke="#ed7d31" stroke-width="1.2"/>
<text x="383.20" y="288.90" class="lg">15.3 ± 0.0%</text>
<line x1="376.00" y1="293.70" x2="381.00" y2="293.70" stroke="#5b9bd5" stroke-width="1.2" stroke-dasharray="2.4 1.0 0.8 1.0"/>
<text x="383.20" y="296.10" class="lg">18.6 ± 0.2%</text>
<line x1="376.00" y1="301.00" x2="381.00" y2="301.00" stroke="#ffc000" stroke-width="1.2" stroke-dasharray="0.9 0.6"/>
<text x="383.20" y="303.40" class="lg">23.4 ± 0.4%</text>
<line x1="376.00" y1="308.40" x2="382.50" y2="308.40" stroke="#70ad47" stroke-width="1.2"/>
<text x="383.20" y="310.80" class="lg">27.6 ± 0.1%</text>
<g transform="translate(472.40,282.70) scale(1)"><polygon points="6.30,0.00 3.15,5.20 -3.15,5.20 -6.30,0.00 -3.15,-5.20 3.15,-5.20" fill="#8a8a8a" stroke="#555" stroke-width="0.8"/><g fill="none" stroke="#d6d6d6" stroke-width="0.7"><circle cx="-2" cy="-2.2" r="1.3"/><circle cx="1.8" cy="-1.2" r="1.3"/><circle cx="-1.6" cy="2" r="1.2"/><circle cx="2.2" cy="2.6" r="1"/></g></g>
<g transform="translate(475.00,298.70) scale(1)"><polygon points="6.30,0.00 3.15,5.20 -3.15,5.20 -6.30,0.00 -3.15,-5.20 3.15,-5.20" fill="#8a8a8a" stroke="#555" stroke-width="0.8"/><g fill="none" stroke="#d6d6d6" stroke-width="0.7"><circle cx="-2" cy="-2.2" r="1.3"/><circle cx="1.8" cy="-1.2" r="1.3"/><circle cx="-1.6" cy="2" r="1.2"/><circle cx="2.2" cy="2.6" r="1"/></g></g>
<g transform="translate(481.40,314.40) scale(0.95)"><polygon points="6.30,0.00 3.15,5.20 -3.15,5.20 -6.30,0.00 -3.15,-5.20 3.15,-5.20" fill="#8a8a8a" stroke="#555" stroke-width="0.8"/><g fill="none" stroke="#d6d6d6" stroke-width="0.7"><circle cx="-2" cy="-2.2" r="1.3"/><circle cx="1.8" cy="-1.2" r="1.3"/><circle cx="-1.6" cy="2" r="1.2"/><circle cx="2.2" cy="2.6" r="1"/></g></g>
<g transform="translate(486.70,329.60) scale(0.95)"><polygon points="6.30,0.00 3.15,5.20 -3.15,5.20 -6.30,0.00 -3.15,-5.20 3.15,-5.20" fill="#8a8a8a" stroke="#555" stroke-width="0.8"/><g fill="none" stroke="#d6d6d6" stroke-width="0.7"><circle cx="-2" cy="-2.2" r="1.3"/><circle cx="1.8" cy="-1.2" r="1.3"/><circle cx="-1.6" cy="2" r="1.2"/><circle cx="2.2" cy="2.6" r="1"/></g></g>
<g transform="translate(492.40,342.80) scale(0.95)"><polygon points="6.30,0.00 3.15,5.20 -3.15,5.20 -6.30,0.00 -3.15,-5.20 3.15,-5.20" fill="#8a8a8a" stroke="#555" stroke-width="0.8"/><g fill="none" stroke="#d6d6d6" stroke-width="0.7"><circle cx="-2" cy="-2.2" r="1.3"/><circle cx="1.8" cy="-1.2" r="1.3"/><circle cx="-1.6" cy="2" r="1.2"/><circle cx="2.2" cy="2.6" r="1"/></g></g>
</g>
<g id="pk">
<rect x="371.00" y="413.80" width="139.50" height="98.20" fill="none" stroke="#a8a8a8" stroke-width="0.9"/>
<path d="M371.04,508.36 C371.49,505.34 372.61,496.18 373.72,490.26 C374.84,484.34 376.18,477.29 377.75,472.82 C379.31,468.35 381.10,465.90 383.11,463.44 C385.12,460.98 387.58,459.53 389.81,458.07 C392.05,456.62 393.17,455.84 396.52,454.72 C399.87,453.60 405.46,452.15 409.93,451.37 C414.40,450.59 419.76,450.36 423.34,450.03 C426.92,449.69 428.66,449.76 431.39,449.36 C434.11,448.96 437.02,448.42 439.70,447.61 C442.38,446.81 445.29,445.35 447.48,444.52 C449.67,443.69 451.62,443.10 452.84,442.64 C454.06,442.19 453.29,443.12 454.81,441.78 C456.34,440.44 460.08,437.23 462.00,434.60 C463.91,431.96 465.23,428.73 466.31,425.98 C467.39,423.22 468.11,419.39 468.46,418.08" fill="none" stroke="#70ad47" stroke-width="1.0"/>
<path d="M371.64,509.76 C372.09,506.74 373.21,497.58 374.32,491.66 C375.44,485.74 376.78,478.69 378.35,474.22 C379.91,469.75 381.70,467.30 383.71,464.84 C385.72,462.38 388.18,460.93 390.41,459.47 C392.65,458.02 393.77,457.24 397.12,456.12 C400.47,455.00 406.06,453.55 410.53,452.77 C415.00,451.99 420.36,451.76 423.94,451.43 C427.52,451.09 429.26,451.16 431.99,450.76 C434.71,450.36 437.62,449.82 440.30,449.01 C442.98,448.21 445.89,446.75 448.08,445.92 C450.27,445.09 452.22,444.50 453.44,444.04 C454.66,443.59 453.89,444.52 455.41,443.18 C456.94,441.84 460.68,438.63 462.60,436.00 C464.51,433.36 465.83,430.13 466.91,427.38 C467.99,424.62 468.71,420.79 469.06,419.48" fill="none" stroke="#70ad47" stroke-width="1.0"/>
<path d="M371.34,509.06 C371.79,506.94 372.91,500.46 374.02,496.32 C375.14,492.19 376.48,487.27 378.05,484.25 C379.61,481.24 381.40,479.78 383.41,478.22 C385.42,476.65 387.88,475.76 390.11,474.87 C392.35,473.97 393.47,473.41 396.82,472.85 C400.17,472.30 405.76,471.85 410.23,471.51 C414.70,471.18 418.68,471.07 423.64,470.84 C428.60,470.62 435.53,470.87 440.00,470.17 C444.47,469.48 446.93,467.79 450.46,466.67 C453.99,465.55 458.28,464.89 461.19,463.46 C464.09,462.03 466.10,460.10 467.89,458.09 C469.68,456.08 470.57,453.51 471.92,451.39 C473.26,449.26 475.16,448.04 475.95,445.36 C476.74,442.67 476.55,436.98 476.67,435.30" fill="none" stroke="#ffc000" stroke-width="1.1" stroke-dasharray="0.9 0.6"/>
<path d="M371.34,509.06 C371.83,507.05 373.13,500.97 374.29,496.99 C375.45,493.01 376.75,488.16 378.31,485.19 C379.88,482.22 381.67,480.70 383.68,479.16 C385.69,477.61 388.15,476.81 390.38,475.94 C392.62,475.07 393.74,474.49 397.09,473.93 C400.44,473.37 406.03,472.92 410.50,472.59 C414.97,472.25 418.99,472.16 423.91,471.92 C428.83,471.67 435.49,471.76 440.00,471.11 C444.51,470.46 447.24,469.07 451.00,468.02 C454.75,466.96 459.40,466.36 462.53,464.80 C465.66,463.23 467.94,460.86 469.77,458.63 C471.60,456.39 472.38,453.36 473.52,451.39 C474.67,449.41 476.10,449.12 476.67,446.79 C477.24,444.47 476.91,439.01 476.95,437.45" fill="none" stroke="#ffc000" stroke-width="1.1" stroke-dasharray="0.9 0.6"/>
<path d="M371.34,509.06 C372.01,507.61 373.80,502.69 375.36,500.34 C376.93,498.00 378.72,496.21 380.73,494.98 C382.74,493.75 384.75,493.64 387.43,492.97 C390.11,492.30 393.02,491.40 396.82,490.96 C400.62,490.51 405.76,490.40 410.23,490.29 C414.70,490.18 418.68,490.40 423.64,490.29 C428.60,490.18 435.53,489.98 440.00,489.62 C444.47,489.26 446.48,488.69 450.46,488.13 C454.44,487.57 459.62,487.24 463.87,486.25 C468.12,485.27 473.03,483.79 475.94,482.23 C478.84,480.67 479.96,479.10 481.30,476.87 C482.64,474.63 483.44,472.04 483.98,468.82 C484.53,465.60 484.47,459.44 484.57,457.57" fill="none" stroke="#5b9bd5" stroke-width="1.1" stroke-dasharray="2.1 1.0 0.8 1.0"/>
<path d="M371.34,509.06 C372.06,507.79 374.02,503.54 375.63,501.42 C377.24,499.29 378.98,497.51 381.00,496.32 C383.01,495.14 385.02,494.94 387.70,494.31 C390.38,493.68 393.29,492.97 397.09,492.57 C400.89,492.16 406.03,492.03 410.50,491.90 C414.97,491.76 418.99,491.85 423.91,491.76 C428.83,491.67 433.34,491.83 440.00,491.36 C446.66,490.89 457.66,489.79 463.87,488.93 C470.08,488.08 474.15,487.37 477.28,486.25 C480.41,485.14 481.30,483.79 482.64,482.23 C483.98,480.67 484.88,477.76 485.33,476.87" fill="none" stroke="#5b9bd5" stroke-width="1.0" stroke-dasharray="2.1 1.0 0.8 1.0"/>
<path d="M371.34,509.06 C372.01,508.28 373.80,505.55 375.36,504.37 C376.93,503.18 378.27,502.58 380.73,501.95 C383.19,501.33 386.32,500.93 390.11,500.61 C393.91,500.30 399.05,500.21 403.52,500.08 C407.99,499.94 412.46,499.92 416.93,499.81 C421.40,499.70 426.50,499.54 430.34,499.41 C434.19,499.27 435.31,499.18 440.00,499.00 C444.69,498.82 453.19,498.66 458.51,498.32 C463.83,497.98 468.12,497.65 471.92,496.98 C475.72,496.31 479.07,495.64 481.30,494.30 C483.54,492.96 484.43,491.39 485.33,488.93 C486.22,486.48 486.44,481.11 486.67,479.55" fill="none" stroke="#ed7d31" stroke-width="1.2" stroke-dasharray="2.8 1.3"/>
<path d="M371.34,509.06 C372.06,508.46 374.02,506.40 375.63,505.44 C377.24,504.48 378.54,503.88 381.00,503.30 C383.45,502.71 386.58,502.29 390.38,501.95 C394.18,501.62 399.32,501.44 403.79,501.28 C408.26,501.13 412.73,501.13 417.20,501.02 C421.67,500.90 426.81,500.72 430.61,500.61 C434.41,500.50 436.69,500.37 440.00,500.34 C443.31,500.32 445.59,500.67 450.46,500.47 C455.33,500.26 464.32,499.71 469.23,499.13 C474.15,498.55 477.28,498.01 479.96,496.98 C482.64,495.95 484.07,494.97 485.33,492.96 C486.58,490.95 487.11,486.25 487.47,484.91" fill="none" stroke="#ed7d31" stroke-width="1.2" stroke-dasharray="2.8 1.3"/>
<path d="M371.00,413.80V512.00H510.50" fill="none" stroke="#7a7a7a" stroke-width="0.9"/>
<path d="M369.20,512.00H371.00M369.20,509.19H371.00M369.20,506.39H371.00M369.20,503.58H371.00M369.20,500.78H371.00M369.20,497.97H371.00M369.20,495.17H371.00M369.20,492.36H371.00M369.20,489.55H371.00M369.20,486.75H371.00M369.20,483.94H371.00M369.20,481.14H371.00M369.20,478.33H371.00M369.20,475.53H371.00M369.20,472.72H371.00M369.20,469.91H371.00M369.20,467.11H371.00M369.20,464.30H371.00M369.20,461.50H371.00M369.20,458.69H371.00M369.20,455.89H371.00M369.20,453.08H371.00M369.20,450.27H371.00M369.20,447.47H371.00M369.20,444.66H371.00M369.20,441.86H371.00M369.20,439.05H371.00M369.20,436.25H371.00M369.20,433.44H371.00M369.20,430.63H371.00M369.20,427.83H371.00M369.20,425.02H371.00M369.20,422.22H371.00M369.20,419.41H371.00M369.20,416.61H371.00M369.20,413.80H371.00M371.00,512.00V513.80M374.10,512.00V513.80M377.20,512.00V513.80M380.30,512.00V513.80M383.40,512.00V513.80M386.50,512.00V513.80M389.60,512.00V513.80M392.70,512.00V513.80M395.80,512.00V513.80M398.90,512.00V513.80M402.00,512.00V513.80M405.10,512.00V513.80M408.20,512.00V513.80M411.30,512.00V513.80M414.40,512.00V513.80M417.50,512.00V513.80M420.60,512.00V513.80M423.70,512.00V513.80M426.80,512.00V513.80M429.90,512.00V513.80M433.00,512.00V513.80M436.10,512.00V513.80M439.20,512.00V513.80M442.30,512.00V513.80M445.40,512.00V513.80M448.50,512.00V513.80M451.60,512.00V513.80M454.70,512.00V513.80M457.80,512.00V513.80M460.90,512.00V513.80M464.00,512.00V513.80M467.10,512.00V513.80M470.20,512.00V513.80M473.30,512.00V513.80M476.40,512.00V513.80M479.50,512.00V513.80M482.60,512.00V513.80M485.70,512.00V513.80M488.80,512.00V513.80M491.90,512.00V513.80M495.00,512.00V513.80M498.10,512.00V513.80M501.20,512.00V513.80M504.30,512.00V513.80M507.40,512.00V513.80M510.50,512.00V513.80" stroke="#7a7a7a" stroke-width="0.6"/>
<text x="365.22" y="514.55" text-anchor="end" class="t">0</text>
<text x="365.22" y="500.52" text-anchor="end" class="t">0.5</text>
<text x="365.22" y="486.49" text-anchor="end" class="t">1</text>
<text x="365.22" y="472.46" text-anchor="end" class="t">1.5</text>
<text x="365.22" y="458.44" text-anchor="end" class="t">2</text>
<text x="365.22" y="444.41" text-anchor="end" class="t">2.5</text>
<text x="365.22" y="430.38" text-anchor="end" class="t">3</text>
<text x="365.22" y="416.35" text-anchor="end" class="t">3.5</text>
<text x="371.21" y="523.20" text-anchor="middle" class="t">0</text>
<text x="386.71" y="523.20" text-anchor="middle" class="t">0.1</text>
<text x="402.21" y="523.20" text-anchor="middle" class="t">0.2</text>
<text x="417.71" y="523.20" text-anchor="middle" class="t">0.3</text>
<text x="433.21" y="523.20" text-anchor="middle" class="t">0.4</text>
<text x="448.71" y="523.20" text-anchor="middle" class="t">0.5</text>
<text x="464.21" y="523.20" text-anchor="middle" class="t">0.6</text>
<text x="479.71" y="523.20" text-anchor="middle" class="t">0.7</text>
<text x="495.21" y="523.20" text-anchor="middle" class="t">0.8</text>
<text x="510.71" y="523.20" text-anchor="middle" class="t">0.9</text>
<text transform="translate(354.80,465.20) rotate(-90)" text-anchor="middle" class="lab">Stress (MPa)</text>
<text transform="translate(440.60,530.50) scale(0.96,1)" text-anchor="middle" class="lab">Strain</text>
<text x="440.60" y="542.90" text-anchor="middle" class="capT">(k)</text>
<line x1="376.00" y1="420.00" x2="381.50" y2="420.00" stroke="#ed7d31" stroke-width="1.2"/>
<text x="383.70" y="422.40" class="lg">10.3 ± 0.0%</text>
<line x1="376.00" y1="427.70" x2="381.50" y2="427.70" stroke="#5b9bd5" stroke-width="1.2" stroke-dasharray="2.4 1.0 0.8 1.0"/>
<text x="383.70" y="430.10" class="lg">13.0 ± 0.0%</text>
<line x1="376.00" y1="435.30" x2="381.50" y2="435.30" stroke="#ffc000" stroke-width="1.2" stroke-dasharray="0.9 0.6"/>
<text x="383.70" y="437.70" class="lg">17.6 ± 0.1%</text>
<line x1="376.00" y1="442.90" x2="383.00" y2="442.90" stroke="#70ad47" stroke-width="1.2"/>
<text x="383.70" y="445.30" class="lg">21.6 ± 0.0%</text>
<g transform="translate(476.00,422.50) scale(1.0)"><path d="M0,-1.5L1,-4M0,-1.5L4.5,0M0,-1.5L-1.5,2.5L-4.5,3" stroke="#505050" stroke-width="1.4" fill="none"/><g fill="#5a5a5a"><circle cx="1" cy="-4.2" r="1.8"/><circle cx="4.8" cy="0" r="1.6"/><circle cx="-1.2" cy="3" r="1.6"/><circle cx="-4.6" cy="3" r="1.5"/></g><g fill="#ccc"><circle cx="-4.6" cy="3" r="0.6"/></g></g>
<g transform="translate(486.00,438.00) scale(1.0)"><path d="M0,-1.5L1,-4M0,-1.5L4.5,0M0,-1.5L-1.5,2.5L-4.5,3" stroke="#505050" stroke-width="1.4" fill="none"/><g fill="#5a5a5a"><circle cx="1" cy="-4.2" r="1.8"/><circle cx="4.8" cy="0" r="1.6"/><circle cx="-1.2" cy="3" r="1.6"/><circle cx="-4.6" cy="3" r="1.5"/></g><g fill="#ccc"><circle cx="-4.6" cy="3" r="0.6"/></g></g>
<g transform="translate(497.50,456.90) scale(1.0)" opacity="0.8"><path d="M0,-1.5L1,-4M0,-1.5L4.5,0M0,-1.5L-1.5,2.5L-4.5,3" stroke="#505050" stroke-width="1.4" fill="none"/><g fill="#5a5a5a"><circle cx="1" cy="-4.2" r="1.8"/><circle cx="4.8" cy="0" r="1.6"/><circle cx="-1.2" cy="3" r="1.6"/><circle cx="-4.6" cy="3" r="1.5"/></g><g fill="#ccc"><circle cx="-4.6" cy="3" r="0.6"/></g></g>
<g transform="translate(501.80,480.60) scale(0.9)" opacity="0.45"><path d="M0,-1.5L1,-4M0,-1.5L4.5,0M0,-1.5L-1.5,2.5L-4.5,3" stroke="#505050" stroke-width="1.4" fill="none"/><g fill="#5a5a5a"><circle cx="1" cy="-4.2" r="1.8"/><circle cx="4.8" cy="0" r="1.6"/><circle cx="-1.2" cy="3" r="1.6"/><circle cx="-4.6" cy="3" r="1.5"/></g><g fill="#ccc"><circle cx="-4.6" cy="3" r="0.6"/></g></g>
</g>
</svg></body></html>
